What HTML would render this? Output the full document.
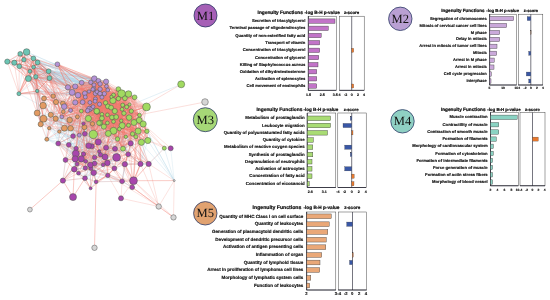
<!DOCTYPE html>
<html><head><meta charset="utf-8"><title>Network modules and Ingenuity Functions</title>
<style>
html,body{margin:0;padding:0;background:#fff;}
body{width:550px;height:300px;overflow:hidden;}
svg{display:block;filter:blur(0.4px);}
svg text{font-family:"Liberation Sans",sans-serif;font-weight:bold;fill:#111;stroke:#111;stroke-width:0.15px;text-rendering:geometricPrecision;}
svg text.h{stroke-width:0.22px;}
</style></head><body>
<svg width="550" height="300" viewBox="0 0 550 300">
<rect width="550" height="300" fill="#fff"/>
<g id="network">
<g fill="none">
<path d="M20.2 53.9L35.8 76.8M14.3 62.7L7.3 61.6M23.9 59.7L14.3 62.7M19.3 66.3L7.3 61.6M48.6 71.3L29.9 71.3M49.5 78.1L28.4 78.6M37.2 91L23.9 59.7M50.8 114.8L63.3 111.7M64.4 128.2L43.1 105.6M67.9 87.3L64.2 106.6M95.4 93.5L75.2 86.4M92.8 89.4L94.3 78.6M101.9 97.2L75.2 86.4M113.5 95L93.3 134.4M129.5 104.5L117.5 139M117.5 139L138.1 131.1M83.5 123.6L88.6 145.7M98.3 142L114.4 168.4M91.8 146.3L88.6 145.7M128.2 154.3L140.5 163.9M116.6 157.4L124.9 164.2M100.5 154.7L93.7 172.7M94.6 157.4L85 178.2M107.4 162.9L100.5 154.7M94.6 163.5L90.3 165M140.5 163.9L148.7 163.9M148.7 163.9L124.9 164.2M114.4 168.4L124.9 164.2M93.7 172.7L96.1 181.8M90.9 168.4L74.3 169.2M107.8 175.4L93.7 172.7M133.5 180.7L132.2 187.3M122.1 181.3L107.8 175.4M132.2 187.3L133.5 180.7M90.6 188.3L78.5 173.2M73 136.1L84.8 133.8M81.3 158.9L85.7 161.3M81.3 158.9L58.2 143.5M65.5 160L84.8 133.8M77.1 164L75.2 158.9M74.3 169.2L91.8 146.3M85.3 168L74.3 169.2M78.5 173.2L85 178.2M78.5 173.2L77.1 164M62.9 180.6L85 178.2M85 178.2L90.9 168.4M49.5 78.1L75.2 102.5M37.2 91L78 95.2M20.2 53.9L78 95.2M33.4 58.4L67.9 87.3M26.6 52L100.1 83.9M48.6 71.3L90.8 82.3M28.4 78.6L94 84.9M49.5 78.1L94.3 78.6M18.9 93.7L104.3 93.7M48.6 71.3L91.8 108.2M48.6 71.3L67.9 87.3M33.6 67.1L57.4 64.3M49.5 78.1L100.1 83.9M33.4 58.4L67.9 87.3M33.4 58.4L94 84.9M35.8 76.8L92.8 89.4M49.5 78.1L106.5 86.3M33.6 67.1L106.1 81.6M48.6 71.3L92.8 89.4M33.6 67.1L81.7 82.7M37.2 91L40.7 124.2M37.2 91L37.2 113M37.2 91L64.4 128.2M50.8 114.8L76.1 148.4M44 98.5L58.2 143.5M70.6 128.3L94.6 163.5M92.5 123.8L81.3 158.9M84.4 127.2L81.3 158.9M59.3 131.6L83.5 154M59.3 131.6L77.1 164M84.4 127.2L90.9 168.4M46.8 139.3L91.8 146.3M50.8 114.8L83.5 123.6M40.7 124.2L83.5 123.6M56 102L58.2 143.5M69.7 120L94.6 157.4M64.4 128.2L84.8 133.8M89.9 102.5L113.5 130.8M85.3 97L121.2 120.7M93.1 106.7L103.8 126.6M93.6 88.8L112.9 100.5M82.6 102.2L101.9 114.3M99.5 104.2L113.5 130.8M108.3 133.5L85.7 161.3M121.2 120.7L116.6 157.4M122.1 109.3L98.3 142M135.9 136.8L99.2 151.4M116.2 117L107.4 162.9M112 117.4L83.5 123.6M121.2 120.7L83.5 123.6M117.5 139L115 148.8M97 111.5L84.8 133.8M122.1 109.3L116.6 157.4M116.2 117L128.2 154.3M119.4 129L105 156.9M125.8 136.8L91.8 146.3M108.3 133.5L94.6 157.4M125.8 136.8L148.7 163.9M131.3 111.1L83.5 123.6" stroke="#a9cfe3" stroke-opacity="0.5" stroke-width="0.5"/>
<path d="M43.5 118.7L37.2 113M50.8 114.8L43.5 118.7M63.3 111.7L62.9 103.4M92.5 123.8L84.4 127.2" stroke="#a9cfe3" stroke-opacity="0.32" stroke-width="0.5"/>
<path d="M70.6 128.3L91.8 108.2M56 102L75.2 86.4M69.7 120L100 93.6M55.6 118.7L75.2 102.5M69.7 120L93.6 88.8M63.3 111.7L75.2 86.4" stroke="#a9cfe3" stroke-opacity="0.3" stroke-width="0.5"/>
<path d="M43.5 118.7L99 123M62.9 103.4L100.1 122.9" stroke="#a9cfe3" stroke-opacity="0.35" stroke-width="0.5"/>
<path d="M89 91.5L73 136.1M91.8 108.2L98.3 142M95.4 98.9L91.8 146.3" stroke="#a9cfe3" stroke-opacity="0.4" stroke-width="0.5"/>
<path d="M181.2 84.3L134.5 103.5" stroke="#a9cfe3" stroke-opacity="0.8" stroke-width="0.4"/>
<path d="M174.2 180.6L164.3 148.2M135.9 136.8L174.2 180.6" stroke="#a9cfe3" stroke-opacity="0.7" stroke-width="0.4"/>
<path d="M57.4 64.3L37.6 62.5" stroke="#a9cfe3" stroke-opacity="0.6" stroke-width="0.4"/>
<path d="M26.6 52L37.6 62.5M20.2 53.9L19.3 66.3M7.3 61.6L19.3 66.3M14.3 62.7L19.3 66.3M37.6 62.5L37.2 91M29.9 71.3L28.4 78.6M29.9 71.3L26.6 52M48.6 71.3L35.8 76.8M55.6 118.7L69.7 120M69.7 120L56 102M59.3 131.6L84.4 127.2M64.2 106.6L72.1 92.4M94 84.9L100.1 89.1M91.8 108.2L84.8 93.3M93.1 106.7L101.9 97.2M121.6 93.7L139.5 115.2M105.6 102.8L113.5 95M103.8 126.6L122.7 105.1M108.3 133.5L141.4 142.3M117.5 139L108.3 133.5M141.4 142.3L131.3 111.1M88.4 118.5L112 117.4M83.5 123.6L98.3 142M130.7 143.3L116.6 157.4M128.2 154.3L130.7 143.3M116.6 157.4L85 178.2M105 156.9L103.2 164.8M100.5 154.7L106.1 147.7M94.6 157.4L94.6 163.5M94.6 157.4L114.4 168.4M99.2 151.4L83.5 154M107.4 162.9L105 156.9M94.6 163.5L94.6 157.4M94.6 163.5L124.9 164.2M103.2 164.8L94.6 163.5M103.2 164.8L91.8 146.3M140.5 163.9L124.9 164.2M148.7 163.9L130.7 143.3M90.9 168.4L85.7 161.3M122.1 181.3L124.9 164.2M96.1 181.8L90.6 188.3M132.2 187.3L122.1 181.3M132.2 187.3L133.5 180.7M90.6 188.3L90.9 168.4M84.8 133.8L115 148.8M68.8 144.8L73 136.1M68.8 144.8L90.9 168.4M88.6 145.7L98.3 142M75.8 153.6L81.3 158.9M75.2 158.9L65.5 160M65.5 160L85.7 161.3M74.3 169.2L77.1 164M74.3 169.2L73 136.1M85.3 168L85.7 161.3M78.5 173.2L85.3 168M62.9 180.6L65.5 160M62.9 180.6L88.6 145.7M26.6 52L67.9 87.3M49.5 78.1L67.9 87.3M7.3 61.6L67.9 87.3M37.6 62.5L75.2 86.4M37.2 91L94 84.9M19.3 66.3L107.8 90M33.4 58.4L93.1 106.7M33.6 67.1L89.4 109M37.2 91L101.9 97.2M26.6 52L106.5 86.3M48.6 71.3L92.8 89.4M33.6 67.1L98.4 80.8M49.5 78.1L81.7 82.7M48.6 71.3L93.6 88.8M37.6 62.5L98.4 80.8M48.6 71.3L67.9 87.3M33.6 67.1L98.4 80.8M33.6 67.1L81.7 82.7M49.5 78.1L106.1 81.6M19.3 66.3L62.9 103.4M35.8 76.8L77.4 116.8M33.6 67.1L44 98.5M29.9 71.3L43.1 105.6M62.9 103.4L84.8 133.8M59.3 131.6L83.5 154M46.8 139.3L58.2 143.5M77.4 116.8L94.6 163.5M77.4 116.8L83.5 123.6M62.9 103.4L88.6 145.7M63.3 111.7L91.8 146.3M46.8 139.3L84.8 133.8M46.8 139.3L83.5 123.6M77.4 116.8L98.3 142M49.2 128.2L68.8 144.8M106.1 81.6L124.9 98.3M95.1 101.2L121.6 93.7M100.1 122.9L94.6 157.4M118.4 98.6L98.3 142M138.1 131.1L99.2 151.4M121.2 120.7L91.8 146.3M101.9 118.3L76.1 148.4M139.2 120.3L115 148.8M113.5 130.8L73 136.1M108.3 133.5L140.5 163.9M112 117.4L128.2 154.3M122.1 125.6L84.8 133.8M116.2 117L91.8 146.3M108.3 133.5L68.8 144.8M97 111.5L76.1 148.4M121.2 120.7L98.3 142M112 117.4L107.4 162.9M125.8 136.8L84.8 133.8M108.3 133.5L74.3 169.2" stroke="#a9cfe3" stroke-opacity="0.5" stroke-width="0.5"/>
<path d="M44 98.5L37.2 113M53.2 96.1L62.9 103.4M43.1 105.6L44 98.5M37.2 113L43.5 118.7M55.6 118.7L50.8 114.8M63.3 111.7L55.6 118.7M64.4 128.2L59.3 131.6M70.6 128.3L69.7 120M46.8 139.3L40.7 124.2" stroke="#a9cfe3" stroke-opacity="0.32" stroke-width="0.5"/>
<path d="M49.2 128.2L82.6 102.2M56 102L57.4 64.3M92.5 123.8L104.3 93.7M64.4 128.2L89.4 109M53.2 96.1L93.6 88.8" stroke="#a9cfe3" stroke-opacity="0.3" stroke-width="0.5"/>
<path d="M63.3 111.7L111.4 96.8M64.4 128.2L107.9 106.4M53.2 96.1L97 111.5" stroke="#a9cfe3" stroke-opacity="0.35" stroke-width="0.5"/>
<path d="M89.9 102.5L76.1 148.4M100 93.6L84.8 133.8M99.5 104.2L130.7 143.3M89 91.5L91.8 146.3M95.4 98.9L98.3 142M93.1 106.7L106.1 147.7M82.6 102.2L84.8 133.8M99.5 104.2L115 148.8" stroke="#a9cfe3" stroke-opacity="0.4" stroke-width="0.5"/>
<path d="M174.2 180.6L147.8 140.5M146.9 131.3L174.2 180.6" stroke="#a9cfe3" stroke-opacity="0.7" stroke-width="0.4"/>
<path d="M170.7 148.3L174.2 180.6M57.4 64.3L33.4 58.4" stroke="#a9cfe3" stroke-opacity="0.6" stroke-width="0.4"/>
<path d="M33.6 67.1L35.8 76.8M56 102L46.8 139.3M40.7 124.2L50.8 114.8M69.7 120L55.6 118.7M64.4 128.2L55.6 118.7M78 95.2L97 91.8M75.2 102.5L64.2 106.6M79.3 135.2L91.8 108.2M143.2 124L146.5 106.9M113.5 121.6L108.3 133.5M146.9 131.3L132.6 133.9M83.5 123.6L91.8 146.3M106.1 147.7L74.3 169.2M115 148.8L105 156.9M91.8 146.3L76.1 148.4M116.6 157.4L105 156.9M100.5 154.7L103.2 164.8M94.6 157.4L115 148.8M99.2 151.4L94.6 157.4M103.2 164.8L100.5 154.7M103.2 164.8L94.6 157.4M140.5 163.9L128.2 154.3M148.7 163.9L140.5 163.9M90.9 168.4L103.2 164.8M107.8 175.4L103.2 164.8M122.1 181.3L90.3 165M96.1 181.8L133.5 180.7M90.6 188.3L96.1 181.8M73 136.1L83.5 123.6M84.8 133.8L73 136.1M58.2 143.5L75.8 153.6M68.8 144.8L58.2 143.5M88.6 145.7L99.2 151.4M85.7 161.3L90.9 168.4M74.3 169.2L75.2 158.9M78.5 173.2L90.3 165M85 178.2L98.3 142M19.3 66.3L67.9 87.3M37.6 62.5L64.2 106.6M33.6 67.1L93.1 106.7M23.9 59.7L81.7 82.7M33.6 67.1L84.8 93.3M35.8 76.8L100.1 89.1M33.4 58.4L67.9 87.3M49.5 78.1L90.8 82.3M37.6 62.5L100.1 83.9M33.4 58.4L92.8 89.4M33.6 67.1L106.1 81.6M37.6 62.5L106.1 81.6M49.5 78.1L94.3 78.6M29.9 71.3L40.7 124.2M37.2 91L40.7 124.2M46.8 139.3L76.1 148.4M53.2 96.1L84.8 133.8M55.6 118.7L73 136.1M84.4 127.2L98.3 142M55.6 118.7L75.8 153.6M70.6 128.3L58.2 143.5M92.5 123.8L85.7 161.3M70.6 128.3L90.3 165M46.8 139.3L81.3 158.9M63.3 111.7L73 136.1M55.6 118.7L98.3 142M92.5 123.8L128.2 154.3M49.2 128.2L88.6 145.7M63.3 111.7L75.2 158.9M97 91.8L112.9 100.5M107.8 90L107.9 106.4M116.2 117L130.7 143.3M93.3 134.4L124.9 164.2M141.4 142.3L94.6 157.4M113.5 121.6L128.2 154.3M138.1 131.1L128.2 154.3M121.2 120.7L91.8 146.3M101.9 114.3L83.5 123.6M107.4 122.9L75.8 153.6M119.4 129L106.1 147.7M107.4 122.9L99.2 151.4M108.3 133.5L84.8 133.8M81.3 111.1L98.3 142M108.3 133.5L73 136.1M101.9 118.3L115 148.8M123.9 113.3L88.6 145.7" stroke="#a9cfe3" stroke-opacity="0.5" stroke-width="0.5"/>
<path d="M53.2 96.1L43.1 105.6M62.9 103.4L50.8 114.8M37.2 113L43.1 105.6M55.6 118.7L63.3 111.7M64.4 128.2L70.6 128.3M84.4 127.2L70.6 128.3M70.6 128.3L59.3 131.6" stroke="#a9cfe3" stroke-opacity="0.32" stroke-width="0.5"/>
<path d="M43.5 118.7L75.2 102.5M64.4 128.2L75.2 86.4M77.4 116.8L101.9 97.2M92.5 123.8L87.6 110.7M44 98.5L89 91.5M69.7 120L94 84.9M64.4 128.2L72.1 92.4M43.1 105.6L79.3 135.2" stroke="#a9cfe3" stroke-opacity="0.3" stroke-width="0.5"/>
<path d="M92.5 123.8L129.5 104.5M46.8 139.3L81.3 111.1" stroke="#a9cfe3" stroke-opacity="0.35" stroke-width="0.5"/>
<path d="M79.3 135.2L107.8 175.4M95.1 101.2L130.7 143.3M99.5 104.2L68.8 144.8M100 93.6L73 136.1M95.1 101.2L130.7 143.3M89.4 109L77.1 164M79.3 135.2L75.8 153.6M97 91.8L84.8 133.8M100 93.6L83.5 123.6M87.6 110.7L98.3 142" stroke="#a9cfe3" stroke-opacity="0.4" stroke-width="0.5"/>
<path d="M174.2 180.6L143.2 124M148.7 163.9L164.3 148.2" stroke="#a9cfe3" stroke-opacity="0.7" stroke-width="0.4"/>
<path d="M57.4 64.3L48.6 71.3" stroke="#a9cfe3" stroke-opacity="0.6" stroke-width="0.4"/>
<path d="M26.6 52L37.6 62.5M26.6 52L19.3 66.3M33.4 58.4L26.6 52M33.4 58.4L28.4 78.6M33.6 67.1L35.8 76.8M29.9 71.3L37.6 62.5M28.4 78.6L37.2 91M18.9 93.7L48.6 71.3M37.2 91L29.9 71.3M56 102L62.9 103.4M50.8 114.8L49.2 128.2M69.7 120L37.2 113M59.3 131.6L63.3 111.7M84.8 93.3L93.6 88.8M89.9 102.5L84.8 93.3M123.9 113.3L139.5 115.2M100.1 122.9L101.9 118.3M141.4 142.3L138.1 131.1M115 148.8L128.2 154.3M91.8 146.3L83.5 154M91.8 146.3L62.9 180.6M128.2 154.3L115 148.8M116.6 157.4L115 148.8M116.6 157.4L93.7 172.7M105 156.9L100.5 154.7M94.6 157.4L99.2 151.4M107.4 162.9L100.5 154.7M107.4 162.9L78.5 173.2M94.6 163.5L103.2 164.8M90.9 168.4L93.7 172.7M107.8 175.4L81.3 158.9M122.1 181.3L132.2 187.3M122.1 181.3L124.9 164.2M90.6 188.3L88.6 145.7M84.8 133.8L88.6 145.7M68.8 144.8L75.8 153.6M68.8 144.8L103.2 164.8M76.1 148.4L68.8 144.8M75.8 153.6L77.1 164M75.2 158.9L81.3 158.9M81.3 158.9L77.1 164M65.5 160L68.8 144.8M85.7 161.3L81.3 158.9M85.7 161.3L81.3 158.9M90.3 165L94.6 163.5M90.3 165L99.2 151.4M77.1 164L90.9 168.4M74.3 169.2L85.3 168M74.3 169.2L75.2 158.9M33.6 67.1L61.8 116.8M18.9 93.7L61.8 116.8M28.4 78.6L75.2 102.5M35.8 76.8L95.4 98.9M28.4 78.6L94 84.9M18.9 93.7L93.6 88.8M29.9 71.3L106.1 81.6M28.4 78.6L100.1 83.9M29.9 71.3L104.3 93.7M33.6 67.1L100.1 83.9M37.6 62.5L98.4 80.8M48.6 71.3L98.4 80.8M37.6 62.5L67.9 87.3M48.6 71.3L100.1 89.1M49.5 78.1L81.7 82.7M33.6 67.1L94.3 78.6M48.6 71.3L94 84.9M48.6 71.3L94 84.9M33.6 67.1L43.5 118.7M59.3 131.6L91.8 146.3M92.5 123.8L103.2 164.8M55.6 118.7L91.8 146.3M77.4 116.8L94.6 157.4M43.5 118.7L83.5 123.6M92.5 123.8L85.7 161.3M70.6 128.3L115 148.8M62.9 103.4L73 136.1M43.5 118.7L75.8 153.6M59.3 131.6L100.5 154.7M40.7 124.2L83.5 123.6M49.2 128.2L75.2 158.9M84.4 127.2L103.2 164.8M82.6 102.2L121.6 93.7M93.6 88.8L107.9 106.4M99.5 104.2L129.5 104.5M95.4 93.5L111.4 96.8M88.4 118.5L94.6 163.5M111.1 107.6L128.2 154.3M111.1 107.6L84.8 133.8M123.9 113.3L100.5 154.7M88.4 118.5L68.8 144.8M99 123L114.4 168.4M134 122.5L148.7 163.9M113.5 121.6L128.2 154.3M88.4 118.5L116.6 157.4M101.9 118.3L100.5 154.7M138.1 131.1L100.5 154.7M107.4 122.9L88.6 145.7M112.9 100.5L130.7 143.3M135.9 136.8L103.2 164.8" stroke="#a9cfe3" stroke-opacity="0.5" stroke-width="0.5"/>
<path d="M56 102L62.9 103.4M37.2 113L40.7 124.2M40.7 124.2L43.5 118.7M63.3 111.7L56 102M69.7 120L70.6 128.3" stroke="#a9cfe3" stroke-opacity="0.32" stroke-width="0.5"/>
<path d="M69.7 120L95.4 93.5M84.4 127.2L93.6 88.8M55.6 118.7L61.8 116.8M53.2 96.1L100 93.6M92.5 123.8L95.4 98.9M56 102L89.4 109M64.4 128.2L64.2 106.6" stroke="#a9cfe3" stroke-opacity="0.3" stroke-width="0.5"/>
<path d="M49.2 128.2L108.3 133.5M55.6 118.7L93.3 134.4" stroke="#a9cfe3" stroke-opacity="0.35" stroke-width="0.5"/>
<path d="M89.9 102.5L75.2 158.9M87.6 110.7L91.8 146.3M75.2 86.4L84.8 133.8" stroke="#a9cfe3" stroke-opacity="0.4" stroke-width="0.5"/>
<path d="M140.5 163.9L147.8 140.5" stroke="#a9cfe3" stroke-opacity="0.7" stroke-width="0.4"/>
<path d="M26.6 52L49.5 78.1M20.2 53.9L33.4 58.4M7.3 61.6L26.6 52M23.9 59.7L18.9 93.7M53.2 96.1L59.3 131.6M40.7 124.2L77.4 116.8M92.5 123.8L55.6 118.7M84.4 127.2L55.6 118.7M46.8 139.3L44 98.5M75.2 102.5L95.4 93.5M64.2 106.6L89.4 109M89.4 109L95.1 101.2M107.8 90L100 93.6M87.6 110.7L89.4 109M87.6 110.7L95.1 101.2M128.5 94L121.6 93.7M124.9 98.3L118.4 98.6M114.8 111.1L116.2 117M122.1 109.3L114.8 111.1M123.9 113.3L126.7 106.9M107.4 114.8L146.9 131.3M107.4 122.9L112 117.4M103.8 126.6L121.6 93.7M138.1 131.1L124.9 98.3M98.3 142L100.5 154.7M116.6 157.4L107.4 162.9M100.5 154.7L130.7 143.3M94.6 157.4L88.6 145.7M107.4 162.9L116.6 157.4M94.6 163.5L85.7 161.3M93.7 172.7L94.6 163.5M90.9 168.4L85.3 168M90.9 168.4L116.6 157.4M122.1 181.3L130.7 143.3M96.1 181.8L78.5 173.2M84.8 133.8L91.8 146.3M58.2 143.5L75.8 153.6M88.6 145.7L96.1 181.8M75.8 153.6L115 148.8M83.5 154L75.8 153.6M83.5 154L100.5 154.7M75.2 158.9L107.8 175.4M81.3 158.9L75.8 153.6M65.5 160L98.3 142M85.7 161.3L105 156.9M90.3 165L85.3 168M77.1 164L85.3 168M78.5 173.2L122.1 181.3M62.9 180.6L74.3 169.2M85 178.2L93.7 172.7M19.3 66.3L75.2 86.4M23.9 59.7L67.9 87.3M35.8 76.8L94 84.9M19.3 66.3L98.4 80.8M20.2 53.9L89.9 102.5M33.6 67.1L89.4 109M19.3 66.3L107.8 90M48.6 71.3L85.3 97M33.4 58.4L106.5 86.3M37.6 62.5L100.1 83.9M48.6 71.3L94 84.9M48.6 71.3L75.2 86.4M33.4 58.4L81.7 82.7M48.6 71.3L92.8 89.4M33.6 67.1L81.7 82.7M35.8 76.8L75.2 86.4M33.6 67.1L57.4 64.3M33.6 67.1L53.2 96.1M35.8 76.8L77.4 116.8M37.2 91L53.2 96.1M84.4 127.2L115 148.8M84.4 127.2L81.3 158.9M84.4 127.2L65.5 160M92.5 123.8L105 156.9M64.4 128.2L105 156.9M43.5 118.7L84.8 133.8M62.9 103.4L58.2 143.5M70.6 128.3L90.3 165M92.5 123.8L90.3 165M64.4 128.2L75.8 153.6M55.6 118.7L84.8 133.8M69.7 120L83.5 154M64.4 128.2L75.8 153.6M90.8 82.3L129.5 104.5M93.1 106.7L139.5 115.2M107.8 90L81.3 111.1M121.2 120.7L88.6 145.7M108.3 133.5L94.6 163.5M100.1 122.9L58.2 143.5M113.5 130.8L75.8 153.6M103.8 126.6L83.5 123.6M97 111.5L83.5 123.6M129.5 104.5L83.5 123.6M121.2 120.7L105 156.9M88.4 118.5L94.6 163.5M146.9 131.3L140.5 163.9" stroke="#a9cfe3" stroke-opacity="0.5" stroke-width="0.5"/>
<path d="M56 102L63.3 111.7M37.2 113L50.8 114.8M43.5 118.7L50.8 114.8M77.4 116.8L69.7 120M64.4 128.2L55.6 118.7M49.2 128.2L59.3 131.6" stroke="#a9cfe3" stroke-opacity="0.32" stroke-width="0.5"/>
<path d="M43.1 105.6L87.6 110.7M69.7 120L94.3 78.6M63.3 111.7L91.8 108.2M53.2 96.1L94 84.9M53.2 96.1L91.8 108.2" stroke="#a9cfe3" stroke-opacity="0.3" stroke-width="0.5"/>
<path d="M92.5 123.8L143.2 124M62.9 103.4L122.7 105.1M84.4 127.2L128.5 125.3M69.7 120L100.1 122.9" stroke="#a9cfe3" stroke-opacity="0.35" stroke-width="0.5"/>
<path d="M95.4 98.9L105 156.9M87.6 110.7L128.2 154.3M95.1 101.2L88.6 145.7M104.3 93.7L99.2 151.4M82.6 102.2L81.3 158.9M75.2 102.5L84.8 133.8M79.3 135.2L94.6 163.5" stroke="#a9cfe3" stroke-opacity="0.4" stroke-width="0.5"/>
<path d="M26.6 52L20.2 53.9M26.6 52L28.4 78.6M20.2 53.9L26.6 52M7.3 61.6L14.3 62.7M7.3 61.6L20.2 53.9M14.3 62.7L26.6 52M23.9 59.7L7.3 61.6M33.4 58.4L29.9 71.3M33.4 58.4L14.3 62.7M37.6 62.5L48.6 71.3M37.6 62.5L33.6 67.1M33.6 67.1L29.9 71.3M33.6 67.1L20.2 53.9M29.9 71.3L33.6 67.1M29.9 71.3L14.3 62.7M48.6 71.3L49.5 78.1M28.4 78.6L29.9 71.3M28.4 78.6L7.3 61.6M35.8 76.8L28.4 78.6M35.8 76.8L19.3 66.3M49.5 78.1L35.8 76.8M18.9 93.7L37.2 91M18.9 93.7L14.3 62.7M37.2 91L28.4 78.6M53.2 96.1L70.6 128.3M43.1 105.6L59.3 131.6M62.9 103.4L56 102M37.2 113L49.2 128.2M55.6 118.7L62.9 103.4M63.3 111.7L44 98.5M77.4 116.8L59.3 131.6M70.6 128.3L50.8 114.8M46.8 139.3L55.6 118.7M57.4 64.3L78 95.2M67.9 87.3L75.2 86.4M67.9 87.3L78 95.2M75.2 86.4L81.7 82.7M75.2 86.4L100.1 83.9M75.2 86.4L95.1 101.2M81.7 82.7L84.8 93.3M81.7 82.7L106.1 81.6M81.7 82.7L72.1 92.4M72.1 92.4L84.8 93.3M72.1 92.4L92.8 89.4M72.1 92.4L89.4 109M78 95.2L82.6 102.2M78 95.2L90.8 82.3M84.8 93.3L89 91.5M84.8 93.3L89.9 102.5M84.8 93.3L90.8 82.3M90.8 82.3L94.3 78.6M90.8 82.3L89 91.5M90.8 82.3L72.1 92.4M94.3 78.6L94 84.9M94.3 78.6L100.1 89.1M94.3 78.6L81.7 82.7M98.4 80.8L90.8 82.3M98.4 80.8L89.9 102.5M93.6 88.8L92.8 89.4M93.6 88.8L100.1 89.1M93.6 88.8L106.1 81.6M89 91.5L84.8 93.3M89 91.5L94 84.9M89 91.5L89.4 109M95.4 93.5L100 93.6M95.4 93.5L89 91.5M85.3 97L82.6 102.2M85.3 97L95.1 101.2M85.3 97L61.8 116.8M75.2 102.5L72.1 92.4M75.2 102.5L100.1 89.1M82.6 102.2L85.3 97M82.6 102.2L89.4 109M82.6 102.2L75.2 102.5M89.9 102.5L93.1 106.7M89.9 102.5L85.3 97M89.9 102.5L75.2 86.4M95.4 98.9L95.1 101.2M95.4 98.9L100 93.6M95.4 98.9L95.4 93.5M64.2 106.6L70.6 110.4M64.2 106.6L82.6 102.2M64.2 106.6L87.6 110.7M89.4 109L91.8 108.2M89.4 109L99.5 104.2M89.4 109L95.4 93.5M61.8 116.8L75.2 102.5M61.8 116.8L85.3 97M99.5 104.2L93.1 106.7M99.5 104.2L89 91.5M99.5 104.2L75.2 102.5M70.6 110.4L61.8 116.8M70.6 110.4L95.4 93.5M70.6 110.4L84.8 93.3M106.1 81.6L100.1 89.1M106.1 81.6L89 91.5M100.1 83.9L98.4 80.8M100.1 83.9L94.3 78.6M100.1 83.9L67.9 87.3M94 84.9L93.6 88.8M94 84.9L94.3 78.6M94 84.9L93.6 88.8M106.5 86.3L100.1 83.9M106.5 86.3L97 91.8M106.5 86.3L95.4 93.5M100.1 89.1L100.1 83.9M100.1 89.1L75.2 86.4M107.8 90L106.5 86.3M107.8 90L101.9 97.2M107.8 90L100.1 89.1M92.8 89.4L94 84.9M92.8 89.4L75.2 102.5M97 91.8L100.1 89.1M97 91.8L89.9 102.5M97 91.8L100.1 83.9M104.3 93.7L107.8 90M104.3 93.7L91.8 108.2M104.3 93.7L78 95.2M101.9 97.2L95.4 98.9M101.9 97.2L75.2 86.4M95.1 101.2L93.1 106.7M95.1 101.2L82.6 102.2M95.1 101.2L81.7 82.7M91.8 108.2L95.1 101.2M91.8 108.2L82.6 102.2M79.3 135.2L61.8 116.8M79.3 135.2L93.1 106.7M93.1 106.7L89.4 109M93.1 106.7L95.4 98.9M93.1 106.7L85.3 97M100 93.6L101.9 97.2M100 93.6L93.6 88.8M100 93.6L89.4 109M87.6 110.7L91.8 108.2M87.6 110.7L99.5 104.2M87.6 110.7L91.8 108.2M118.4 89.1L113.5 95M118.4 89.1L112.9 100.5M118.4 89.1L121.6 93.7M121.6 93.7L118.4 98.6M121.6 93.7L100.1 122.9M121.6 93.7L96.7 111.1M128.5 94L134.6 97.3M128.5 94L107.4 114.8M128.5 94L112.9 100.5M113.5 95L118.4 98.6M113.5 95L134 122.5M134.6 97.3L124.9 98.3M134.6 97.3L139.2 120.3M134.6 97.3L135.9 136.8M118.4 98.6L124.9 98.3M118.4 98.6L97 111.5M118.4 98.6L124.9 98.3M124.9 98.3L122.7 105.1M124.9 98.3L146.5 106.9M124.9 98.3L129.1 117.6M112.9 100.5L111.1 107.6M112.9 100.5L124.9 98.3M112.9 100.5L121.6 93.7M105.6 102.8L111.4 96.8M105.6 102.8L107.4 122.9M146.5 106.9L139.5 115.2M146.5 106.9L143.2 124M146.5 106.9L113.5 95M146.5 106.9L122.7 105.1M97 111.5L88.4 118.5M97 111.5L108.3 133.5M107.9 106.4L111.1 107.6M107.9 106.4L101.9 114.3M107.9 106.4L132.6 133.9M107.9 106.4L139.5 115.2M111.1 107.6L107.4 114.8M111.1 107.6L107.4 114.8M111.1 107.6L146.5 106.9M111.4 96.8L105.6 102.8M111.4 96.8L103.8 126.6M111.4 96.8L112.9 100.5M129.5 104.5L124.9 98.3M129.5 104.5L129.1 117.6M114.8 111.1L112 117.4M114.8 111.1L143.2 124M114.8 111.1L143.2 124M122.7 105.1L126.7 106.9M122.7 105.1L114.8 111.1M122.7 105.1L123.9 113.3M126.7 106.9L129.5 104.5M126.7 106.9L124.9 98.3M126.7 106.9L146.9 131.3M126.7 106.9L107.9 106.4M122.1 109.3L129.5 104.5M122.1 109.3L128.5 94M122.1 109.3L112.9 100.5M123.9 113.3L131.3 111.1M123.9 113.3L103.8 126.6M123.9 113.3L99 123M131.3 111.1L129.1 117.6M131.3 111.1L146.5 106.9M131.3 111.1L113.5 95M101.9 114.3L107.4 114.8M101.9 114.3L107.9 106.4M101.9 114.3L81.3 111.1M107.4 114.8L101.9 114.3M107.4 114.8L107.9 106.4M107.4 114.8L114.8 111.1M101.9 118.3L101.9 114.3M101.9 118.3L97 111.5M101.9 118.3L103.8 126.6M101.9 118.3L125.8 136.8M112 117.4L107.4 122.9M112 117.4L81.3 111.1M112 117.4L121.2 120.7M116.2 117L121.2 120.7M116.2 117L113.5 121.6M116.2 117L100.1 122.9M129.1 117.6L134 122.5M129.1 117.6L105.6 102.8M129.1 117.6L135.9 136.8M139.5 115.2L134 122.5M139.5 115.2L129.5 104.5M139.5 115.2L122.7 105.1M139.2 120.3L139.5 115.2M139.2 120.3L128.5 125.3M139.2 120.3L122.7 105.1M134 122.5L128.5 125.3M134 122.5L132.6 133.9M134 122.5L108.3 133.5M143.2 124L139.2 120.3M143.2 124L132.6 133.9M143.2 124L122.7 105.1M113.5 121.6L112 117.4M113.5 121.6L113.5 130.8M113.5 121.6L113.5 95M113.5 121.6L118.4 89.1M121.2 120.7L129.1 117.6M121.2 120.7L107.9 106.4M121.2 120.7L138.1 131.1M100.1 122.9L107.4 122.9M100.1 122.9L88.4 118.5M100.1 122.9L107.9 106.4M107.4 122.9L101.9 118.3M107.4 122.9L88.4 118.5M107.4 122.9L113.5 121.6M103.8 126.6L108.3 133.5M103.8 126.6L146.9 131.3M103.8 126.6L107.4 114.8M122.1 125.6L128.5 125.3M122.1 125.6L129.5 104.5M122.1 125.6L113.5 130.8M128.5 125.3L129.1 117.6M128.5 125.3L96.7 111.1M128.5 125.3L138.1 131.1M113.5 130.8L119.4 129M113.5 130.8L103.8 126.6M113.5 130.8L128.5 94M119.4 129L122.1 125.6M119.4 129L125.8 136.8M119.4 129L122.1 125.6M119.4 129L93.3 134.4M108.3 133.5L119.4 129M108.3 133.5L128.5 125.3M108.3 133.5L111.4 96.8M93.3 134.4L108.3 133.5M93.3 134.4L132.6 133.9M138.1 131.1L135.9 136.8M138.1 131.1L139.2 120.3M138.1 131.1L141.4 142.3M138.1 131.1L112 117.4M132.6 133.9L134 122.5M132.6 133.9L123.9 113.3M132.6 133.9L131.3 111.1M146.9 131.3L141.4 142.3M146.9 131.3L107.4 122.9M146.9 131.3L128.5 94M135.9 136.8L146.9 131.3M135.9 136.8L129.1 117.6M135.9 136.8L131.3 111.1M125.8 136.8L135.9 136.8M125.8 136.8L100.1 122.9M125.8 136.8L122.1 125.6M117.5 139L119.4 129M117.5 139L122.1 125.6M147.8 140.5L146.9 131.3M147.8 140.5L139.2 120.3M147.8 140.5L128.5 125.3M141.4 142.3L146.9 131.3M141.4 142.3L128.5 125.3M123 148.7L117.5 139M123 148.7L119.4 129M123 148.7L101.9 118.3M81.3 111.1L101.9 114.3M81.3 111.1L121.6 93.7M96.7 111.1L88.4 118.5M96.7 111.1L111.4 96.8M96.7 111.1L105.6 102.8M88.4 118.5L99 123M88.4 118.5L99 123M99 123L101.9 118.3M99 123L97 111.5M99 123L96.7 111.1M98.3 142L91.8 146.3M130.7 143.3L115 148.8M130.7 143.3L103.2 164.8M106.1 147.7L98.3 142M115 148.8L116.6 157.4M115 148.8L133.5 180.7M91.8 146.3L62.9 180.6M128.2 154.3L124.9 164.2M116.6 157.4L85.3 168M105 156.9L99.2 151.4M105 156.9L116.6 157.4M100.5 154.7L94.6 157.4M94.6 157.4L85.7 161.3M99.2 151.4L91.8 146.3M107.4 162.9L103.2 164.8M94.6 163.5L75.2 158.9M103.2 164.8L105 156.9M103.2 164.8L85.7 161.3M124.9 164.2L114.4 168.4M140.5 163.9L115 148.8M114.4 168.4L93.7 172.7M93.7 172.7L100.5 154.7M90.9 168.4L94.6 163.5M133.5 180.7L128.2 154.3M122.1 181.3L85.7 161.3M96.1 181.8L90.9 168.4M132.2 187.3L130.7 143.3M73 136.1L83.5 154M84.8 133.8L98.3 142M58.2 143.5L65.5 160M68.8 144.8L76.1 148.4M68.8 144.8L81.3 158.9M88.6 145.7L83.5 154M88.6 145.7L76.1 148.4M76.1 148.4L75.2 158.9M75.8 153.6L75.2 158.9M75.8 153.6L107.8 175.4M83.5 154L76.1 148.4M83.5 154L83.5 123.6M75.2 158.9L65.5 160M65.5 160L75.8 153.6M85.7 161.3L85.3 168M85.7 161.3L83.5 154M90.3 165L85.7 161.3M77.1 164L58.2 143.5M74.3 169.2L78.5 173.2M85.3 168L90.3 165M62.9 180.6L78.5 173.2M20.2 53.9L78 95.2M14.3 62.7L72.1 92.4M14.3 62.7L70.6 110.4M48.6 71.3L61.8 116.8M33.6 67.1L61.8 116.8M48.6 71.3L77.4 116.8M35.8 76.8L56 102M28.4 78.6L53.2 96.1M29.9 71.3L56 102M35.8 76.8L43.1 105.6M106.1 81.6L105.6 102.8M93.1 106.7L107.4 122.9M95.4 93.5L101.9 118.3M95.4 98.9L121.6 93.7M99.5 104.2L134.6 97.3M98.4 80.8L111.1 107.6M97 91.8L124.9 98.3M95.4 93.5L128.5 125.3M92.8 89.4L119.4 129M89.4 109L113.5 95M97 91.8L134.6 97.3M94.3 78.6L128.5 94M81.7 82.7L128.5 94M79.3 135.2L112.9 100.5M101.9 97.2L143.2 124M82.6 102.2L96.7 111.1M81.7 82.7L107.4 114.8M99.5 104.2L101.9 118.3M97 91.8L112 117.4M106.5 86.3L118.4 89.1M78 95.2L107.9 106.4M89 91.5L113.5 121.6M89.9 102.5L113.5 130.8M95.1 101.2L96.7 111.1M106.5 86.3L146.5 106.9M89.4 109L123.9 113.3M95.1 101.2L111.1 107.6M89 91.5L122.1 109.3M90.8 82.3L101.9 114.3M99.5 104.2L122.1 109.3M79.3 135.2L103.8 126.6M89 91.5L97 111.5M99.5 104.2L138.1 131.1M106.1 81.6L129.1 117.6M99.5 104.2L97 111.5M89.9 102.5L118.4 98.6M95.1 101.2L139.5 115.2M94.3 78.6L107.4 114.8M64.2 106.6L101.9 114.3M93.6 88.8L119.4 129M97 91.8L96.7 111.1M93.1 106.7L101.9 118.3M79.3 135.2L107.9 106.4M95.4 93.5L123.9 113.3M100 93.6L107.4 122.9M100.1 83.9L116.2 117M106.1 81.6L103.8 126.6M104.3 93.7L129.1 117.6M101.9 97.2L114.8 111.1M107.8 90L114.8 111.1M81.7 82.7L122.1 109.3M94 84.9L124.9 98.3M72.1 92.4L113.5 95M100 93.6L96.7 111.1M106.1 81.6L129.1 117.6M90.8 82.3L112.9 100.5M93.1 106.7L107.4 122.9M106.5 86.3L139.5 115.2M94 84.9L88.4 118.5M89.9 102.5L108.3 133.5M89 91.5L113.5 121.6M94 84.9L112 117.4M84.8 93.3L111.1 107.6M90.8 82.3L114.8 111.1M75.2 86.4L100.1 122.9M100.1 83.9L97 111.5M70.6 110.4L100.1 122.9M87.6 110.7L119.4 129M99.5 104.2L97 111.5M106.1 81.6L96.7 111.1M91.8 108.2L105.6 102.8M93.1 106.7L105.6 102.8M72.1 92.4L107.9 106.4M78 95.2L111.4 96.8M81.3 111.1L58.2 143.5M107.4 114.8L88.6 145.7M123 148.7L105 156.9M97 111.5L68.8 144.8M113.5 121.6L98.3 142M128.5 125.3L130.7 143.3M101.9 118.3L105 156.9M139.2 120.3L140.5 163.9M113.5 130.8L124.9 164.2M81.3 111.1L99.2 151.4M131.3 111.1L106.1 147.7M88.4 118.5L99.2 151.4M101.9 118.3L128.2 154.3M113.5 130.8L148.7 163.9M88.4 118.5L103.2 164.8M108.3 133.5L75.8 153.6M114.8 111.1L88.6 145.7M147.8 140.5L98.3 142" stroke="#f0776a" stroke-opacity="0.5" stroke-width="0.5"/>
<path d="M44 98.5L56 102M53.2 96.1L44 98.5M56 102L44 98.5M62.9 103.4L63.3 111.7M40.7 124.2L37.2 113M69.7 120L63.3 111.7M77.4 116.8L84.4 127.2M49.2 128.2L43.5 118.7M84.4 127.2L92.5 123.8M70.6 128.3L64.4 128.2M59.3 131.6L55.6 118.7M46.8 139.3L59.3 131.6" stroke="#f0776a" stroke-opacity="0.32" stroke-width="0.5"/>
<path d="M50.8 114.8L91.8 108.2M56 102L64.2 106.6M50.8 114.8L99.5 104.2M63.3 111.7L87.6 110.7M69.7 120L94 84.9M70.6 128.3L101.9 97.2M56 102L79.3 135.2M59.3 131.6L95.4 98.9M62.9 103.4L95.4 93.5M43.5 118.7L61.8 116.8M59.3 131.6L89.4 109M63.3 111.7L94 84.9" stroke="#f0776a" stroke-opacity="0.3" stroke-width="0.5"/>
<path d="M84.4 127.2L97 111.5M84.4 127.2L118.4 89.1M43.5 118.7L88.4 118.5M84.4 127.2L128.5 125.3M92.5 123.8L111.4 96.8" stroke="#f0776a" stroke-opacity="0.35" stroke-width="0.5"/>
<path d="M91.8 108.2L88.6 145.7M75.2 102.5L73 136.1M87.6 110.7L85.3 168M95.1 101.2L75.8 153.6M64.2 106.6L58.2 143.5M81.7 82.7L73 136.1M78 95.2L84.8 133.8" stroke="#f0776a" stroke-opacity="0.4" stroke-width="0.5"/>
<path d="M94.5 247.8L96.1 181.8" stroke="#f0776a" stroke-opacity="0.65" stroke-width="0.6"/>
<path d="M158.7 206.5L140.5 163.9" stroke="#f0776a" stroke-opacity="0.55" stroke-width="0.4"/>
<path d="M164.3 148.2L147.8 140.5M170.7 148.3L143.2 124M121 198.3L122.1 181.3M133.5 180.7L124.9 164.2M148.7 163.9L130.7 143.3M90.6 188.3L93.7 172.7M96.1 181.8L122.1 181.3M57.4 64.3L90.8 82.3" stroke="#f0776a" stroke-opacity="0.5" stroke-width="0.4"/>
<path d="M26.6 52L23.9 59.7M20.2 53.9L23.9 59.7M14.3 62.7L19.3 66.3M23.9 59.7L20.2 53.9M23.9 59.7L7.3 61.6M33.4 58.4L37.6 62.5M33.4 58.4L18.9 93.7M37.6 62.5L33.4 58.4M19.3 66.3L14.3 62.7M19.3 66.3L23.9 59.7M33.6 67.1L37.6 62.5M33.6 67.1L35.8 76.8M48.6 71.3L14.3 62.7M28.4 78.6L35.8 76.8M28.4 78.6L33.6 67.1M35.8 76.8L29.9 71.3M35.8 76.8L37.2 91M49.5 78.1L37.2 91M49.5 78.1L14.3 62.7M18.9 93.7L35.8 76.8M18.9 93.7L37.6 62.5M37.2 91L49.5 78.1M37.2 91L18.9 93.7M43.1 105.6L64.4 128.2M56 102L49.2 128.2M37.2 113L43.1 105.6M63.3 111.7L84.4 127.2M64.4 128.2L44 98.5M70.6 128.3L56 102M57.4 64.3L67.9 87.3M57.4 64.3L90.8 82.3M67.9 87.3L78 95.2M67.9 87.3L100.1 83.9M67.9 87.3L100 93.6M75.2 86.4L78 95.2M75.2 86.4L104.3 93.7M75.2 86.4L93.1 106.7M81.7 82.7L89 91.5M81.7 82.7L100.1 83.9M72.1 92.4L78 95.2M72.1 92.4L81.7 82.7M72.1 92.4L100.1 83.9M78 95.2L72.1 92.4M78 95.2L75.2 86.4M78 95.2L95.4 93.5M84.8 93.3L78 95.2M84.8 93.3L78 95.2M84.8 93.3L75.2 102.5M90.8 82.3L93.6 88.8M90.8 82.3L57.4 64.3M90.8 82.3L100 93.6M94.3 78.6L100.1 83.9M94.3 78.6L95.4 93.5M98.4 80.8L100.1 83.9M98.4 80.8L100.1 89.1M98.4 80.8L89.9 102.5M93.6 88.8L94 84.9M93.6 88.8L90.8 82.3M93.6 88.8L93.1 106.7M89 91.5L93.6 88.8M89 91.5L101.9 97.2M89 91.5L67.9 87.3M95.4 93.5L92.8 89.4M95.4 93.5L84.8 93.3M95.4 93.5L94.3 78.6M85.3 97L89 91.5M85.3 97L95.4 93.5M85.3 97L82.6 102.2M75.2 102.5L85.3 97M75.2 102.5L104.3 93.7M82.6 102.2L89.9 102.5M82.6 102.2L87.6 110.7M82.6 102.2L81.7 82.7M89.9 102.5L95.1 101.2M89.9 102.5L82.6 102.2M89.9 102.5L100.1 83.9M95.4 98.9L95.4 93.5M95.4 98.9L97 91.8M95.4 98.9L97 91.8M64.2 106.6L61.8 116.8M64.2 106.6L67.9 87.3M89.4 109L93.1 106.7M89.4 109L98.4 80.8M89.4 109L93.6 88.8M61.8 116.8L79.3 135.2M61.8 116.8L89 91.5M99.5 104.2L101.9 97.2M99.5 104.2L98.4 80.8M99.5 104.2L84.8 93.3M70.6 110.4L82.6 102.2M70.6 110.4L100 93.6M106.1 81.6L106.5 86.3M106.1 81.6L94.3 78.6M106.1 81.6L72.1 92.4M100.1 83.9L100.1 89.1M100.1 83.9L93.6 88.8M100.1 83.9L106.1 81.6M94 84.9L90.8 82.3M94 84.9L64.2 106.6M106.5 86.3L100.1 89.1M106.5 86.3L87.6 110.7M106.5 86.3L89 91.5M100.1 89.1L104.3 93.7M100.1 89.1L90.8 82.3M107.8 90L104.3 93.7M107.8 90L100.1 83.9M107.8 90L101.9 97.2M92.8 89.4L97 91.8M92.8 89.4L72.1 92.4M92.8 89.4L70.6 110.4M97 91.8L93.6 88.8M97 91.8L82.6 102.2M97 91.8L89.9 102.5M104.3 93.7L100.1 89.1M104.3 93.7L94 84.9M104.3 93.7L89 91.5M101.9 97.2L97 91.8M101.9 97.2L64.2 106.6M101.9 97.2L93.1 106.7M95.1 101.2L95.4 93.5M95.1 101.2L107.8 90M91.8 108.2L93.1 106.7M91.8 108.2L99.5 104.2M79.3 135.2L87.6 110.7M79.3 135.2L64.2 106.6M93.1 106.7L89.9 102.5M93.1 106.7L81.7 82.7M100 93.6L104.3 93.7M100 93.6L91.8 108.2M100 93.6L94 84.9M87.6 110.7L93.1 106.7M87.6 110.7L75.2 86.4M87.6 110.7L72.1 92.4M118.4 89.1L118.4 98.6M118.4 89.1L143.2 124M118.4 89.1L122.1 109.3M121.6 93.7L128.5 94M121.6 93.7L107.4 114.8M128.5 94L129.5 104.5M128.5 94L121.2 120.7M128.5 94L118.4 98.6M113.5 95L118.4 89.1M113.5 95L111.4 96.8M113.5 95L113.5 130.8M134.6 97.3L126.7 106.9M134.6 97.3L122.7 105.1M134.6 97.3L119.4 129M118.4 98.6L111.4 96.8M118.4 98.6L124.9 98.3M118.4 98.6L124.9 98.3M124.9 98.3L129.5 104.5M124.9 98.3L117.5 139M124.9 98.3L138.1 131.1M112.9 100.5L105.6 102.8M112.9 100.5L114.8 111.1M112.9 100.5L129.1 117.6M105.6 102.8L111.1 107.6M146.5 106.9L139.2 120.3M146.5 106.9L126.7 106.9M146.5 106.9L112 117.4M97 111.5L96.7 111.1M97 111.5L99 123M97 111.5L93.3 134.4M107.9 106.4L105.6 102.8M107.9 106.4L111.4 96.8M107.9 106.4L118.4 89.1M111.1 107.6L107.9 106.4M111.1 107.6L112 117.4M111.1 107.6L118.4 89.1M111.1 107.6L107.9 106.4M111.4 96.8L107.9 106.4M111.4 96.8L88.4 118.5M111.4 96.8L122.7 105.1M129.5 104.5L122.1 109.3M129.5 104.5L88.4 118.5M129.5 104.5L132.6 133.9M114.8 111.1L122.1 109.3M114.8 111.1L146.5 106.9M114.8 111.1L103.8 126.6M122.7 105.1L129.5 104.5M122.7 105.1L121.2 120.7M122.7 105.1L108.3 133.5M126.7 106.9L122.7 105.1M126.7 106.9L129.1 117.6M126.7 106.9L132.6 133.9M122.1 109.3L122.7 105.1M122.1 109.3L131.3 111.1M122.1 109.3L139.5 115.2M122.1 109.3L129.1 117.6M123.9 113.3L121.2 120.7M123.9 113.3L93.3 134.4M123.9 113.3L112.9 100.5M131.3 111.1L123.9 113.3M131.3 111.1L118.4 98.6M131.3 111.1L118.4 89.1M101.9 114.3L97 111.5M101.9 114.3L122.1 125.6M101.9 114.3L112 117.4M107.4 114.8L101.9 118.3M107.4 114.8L125.8 136.8M107.4 114.8L132.6 133.9M101.9 118.3L100.1 122.9M101.9 118.3L103.8 126.6M101.9 118.3L113.5 121.6M112 117.4L116.2 117M112 117.4L121.2 120.7M112 117.4L134.6 97.3M112 117.4L111.1 107.6M116.2 117L123.9 113.3M116.2 117L124.9 98.3M116.2 117L124.9 98.3M129.1 117.6L128.5 125.3M129.1 117.6L128.5 94M129.1 117.6L99 123M139.5 115.2L131.3 111.1M139.5 115.2L116.2 117M139.5 115.2L113.5 95M139.2 120.3L143.2 124M139.2 120.3L131.3 111.1M139.2 120.3L101.9 118.3M134 122.5L129.1 117.6M134 122.5L119.4 129M134 122.5L101.9 114.3M143.2 124L146.9 131.3M143.2 124L135.9 136.8M143.2 124L131.3 111.1M113.5 121.6L116.2 117M113.5 121.6L119.4 129M113.5 121.6L122.1 109.3M121.2 120.7L122.1 125.6M121.2 120.7L119.4 129M121.2 120.7L118.4 98.6M121.2 120.7L81.3 111.1M100.1 122.9L101.9 114.3M100.1 122.9L113.5 121.6M100.1 122.9L101.9 118.3M107.4 122.9L100.1 122.9M107.4 122.9L131.3 111.1M107.4 122.9L121.6 93.7M103.8 126.6L101.9 118.3M103.8 126.6L135.9 136.8M122.1 125.6L113.5 121.6M122.1 125.6L134 122.5M122.1 125.6L100.1 122.9M128.5 125.3L121.2 120.7M128.5 125.3L103.8 126.6M128.5 125.3L101.9 118.3M113.5 130.8L117.5 139M113.5 130.8L128.5 94M113.5 130.8L122.7 105.1M119.4 129L113.5 130.8M119.4 129L117.5 139M119.4 129L114.8 111.1M108.3 133.5L113.5 130.8M108.3 133.5L113.5 121.6M108.3 133.5L107.4 114.8M93.3 134.4L88.4 118.5M93.3 134.4L129.1 117.6M138.1 131.1L132.6 133.9M138.1 131.1L128.5 125.3M138.1 131.1L112.9 100.5M132.6 133.9L135.9 136.8M132.6 133.9L141.4 142.3M132.6 133.9L123.9 113.3M146.9 131.3L143.2 124M146.9 131.3L139.2 120.3M146.9 131.3L107.4 122.9M135.9 136.8L132.6 133.9M135.9 136.8L147.8 140.5M135.9 136.8L139.2 120.3M135.9 136.8L134.6 97.3M125.8 136.8L122.1 125.6M125.8 136.8L121.2 120.7M125.8 136.8L108.3 133.5M117.5 139L107.9 106.4M117.5 139L113.5 130.8M147.8 140.5L135.9 136.8M147.8 140.5L132.6 133.9M141.4 142.3L147.8 140.5M141.4 142.3L125.8 136.8M123 148.7L125.8 136.8M123 148.7L113.5 130.8M123 148.7L107.4 122.9M81.3 111.1L99 123M81.3 111.1L114.8 111.1M96.7 111.1L107.4 114.8M96.7 111.1L112 117.4M96.7 111.1L122.7 105.1M88.4 118.5L100.1 122.9M99 123L103.8 126.6M99 123L101.9 118.3M99 123L122.1 109.3M98.3 142L99.2 151.4M98.3 142L85.7 161.3M106.1 147.7L99.2 151.4M106.1 147.7L116.6 157.4M115 148.8L106.1 147.7M115 148.8L91.8 146.3M91.8 146.3L98.3 142M91.8 146.3L77.1 164M128.2 154.3L94.6 157.4M116.6 157.4L114.4 168.4M105 156.9L94.6 157.4M99.2 151.4L100.5 154.7M107.4 162.9L99.2 151.4M124.9 164.2L140.5 163.9M140.5 163.9L99.2 151.4M114.4 168.4L103.2 164.8M114.4 168.4L90.6 188.3M93.7 172.7L85.3 168M93.7 172.7L122.1 181.3M107.8 175.4L114.4 168.4M107.8 175.4L81.3 158.9M133.5 180.7L122.1 181.3M133.5 180.7L132.2 187.3M96.1 181.8L107.4 162.9M73 136.1L76.1 148.4M84.8 133.8L83.5 123.6M58.2 143.5L76.1 148.4M88.6 145.7L81.3 158.9M76.1 148.4L81.3 158.9M75.8 153.6L76.1 148.4M83.5 154L75.2 158.9M75.2 158.9L75.8 153.6M81.3 158.9L83.5 154M81.3 158.9L62.9 180.6M65.5 160L77.1 164M85.7 161.3L83.5 154M85.7 161.3L83.5 123.6M90.3 165L93.7 172.7M77.1 164L74.3 169.2M77.1 164L98.3 142M85.3 168L75.2 158.9M78.5 173.2L91.8 146.3M85 178.2L90.6 188.3M49.5 78.1L61.8 116.8M37.2 91L78 95.2M18.9 93.7L78 95.2M26.6 52L72.1 92.4M33.6 67.1L61.8 116.8M35.8 76.8L75.2 86.4M37.2 91L77.4 116.8M48.6 71.3L40.7 124.2M33.6 67.1L40.7 124.2M28.4 78.6L43.1 105.6M77.4 116.8L90.3 165M70.6 128.3L115 148.8M59.3 131.6L106.1 147.7M85.3 97L126.7 106.9M100.1 89.1L131.3 111.1M89.4 109L93.3 134.4M89 91.5L118.4 98.6M97 91.8L122.7 105.1M79.3 135.2L81.3 111.1M98.4 80.8L111.1 107.6M92.8 89.4L114.8 111.1M89 91.5L111.4 96.8M89 91.5L108.3 133.5M101.9 97.2L129.5 104.5M79.3 135.2L105.6 102.8M94.3 78.6L100.1 122.9M75.2 102.5L107.9 106.4M98.4 80.8L99 123M75.2 102.5L99 123M98.4 80.8L96.7 111.1M89 91.5L99 123M84.8 93.3L112.9 100.5M61.8 116.8L107.4 114.8M75.2 102.5L111.4 96.8M87.6 110.7L81.3 111.1M101.9 97.2L118.4 89.1M101.9 97.2L99 123M106.5 86.3L111.4 96.8M87.6 110.7L107.9 106.4M93.6 88.8L108.3 133.5M95.4 93.5L128.5 125.3M101.9 97.2L146.5 106.9M97 91.8L107.4 114.8M61.8 116.8L81.3 111.1M87.6 110.7L122.1 125.6M100.1 83.9L121.6 93.7M95.4 93.5L128.5 94M93.6 88.8L112.9 100.5M70.6 110.4L108.3 133.5M98.4 80.8L113.5 95M95.4 93.5L122.1 125.6M91.8 108.2L113.5 121.6M95.4 98.9L134 122.5M100.1 83.9L99 123M87.6 110.7L107.9 106.4M100.1 83.9L107.4 122.9M95.4 93.5L122.7 105.1M100 93.6L101.9 114.3M90.8 82.3L122.1 109.3M100 93.6L134.6 97.3M95.4 93.5L107.9 106.4M87.6 110.7L88.4 118.5M106.1 81.6L122.7 105.1M81.7 82.7L114.8 111.1M87.6 110.7L107.9 106.4M89 91.5L123.9 113.3M99.5 104.2L113.5 95M78 95.2L107.4 122.9M89.9 102.5L108.3 133.5M100.1 89.1L105.6 102.8M95.4 98.9L97 111.5M75.2 102.5L118.4 89.1M95.1 101.2L111.4 96.8M89 91.5L128.5 94M107.8 90L107.4 114.8M99.5 104.2L101.9 118.3M95.4 93.5L126.7 106.9M89 91.5L113.5 95M106.1 81.6L112.9 100.5M82.6 102.2L129.5 104.5M89.4 109L129.1 117.6M89.4 109L126.7 106.9M84.8 93.3L122.7 105.1M93.6 88.8L124.9 98.3M95.4 98.9L122.1 109.3M106.1 81.6L129.5 104.5M95.4 93.5L107.4 122.9M90.8 82.3L105.6 102.8M106.1 81.6L113.5 121.6M99.5 104.2L101.9 118.3M107.8 90L113.5 130.8M114.8 111.1L105 156.9M97 111.5L75.8 153.6M113.5 130.8L81.3 158.9M111.1 107.6L84.8 133.8M122.1 125.6L99.2 151.4M129.1 117.6L115 148.8M101.9 118.3L73 136.1M125.8 136.8L90.9 168.4M131.3 111.1L106.1 147.7M134 122.5L140.5 163.9M134 122.5L99.2 151.4M141.4 142.3L107.8 175.4M113.5 130.8L90.9 168.4M112 117.4L105 156.9M134.6 97.3L130.7 143.3M135.9 136.8L133.5 180.7M123 148.7L77.1 164" stroke="#f0776a" stroke-opacity="0.5" stroke-width="0.5"/>
<path d="M62.9 103.4L53.2 96.1M43.5 118.7L49.2 128.2M50.8 114.8L43.1 105.6M40.7 124.2L50.8 114.8M77.4 116.8L70.6 128.3M49.2 128.2L46.8 139.3M92.5 123.8L77.4 116.8M84.4 127.2L77.4 116.8" stroke="#f0776a" stroke-opacity="0.32" stroke-width="0.5"/>
<path d="M56 102L78 95.2M63.3 111.7L78 95.2M43.1 105.6L57.4 64.3M70.6 128.3L82.6 102.2M64.4 128.2L91.8 108.2M63.3 111.7L101.9 97.2M62.9 103.4L89.9 102.5M62.9 103.4L87.6 110.7M50.8 114.8L64.2 106.6M77.4 116.8L84.8 93.3M70.6 128.3L97 91.8M69.7 120L89.9 102.5M63.3 111.7L70.6 110.4" stroke="#f0776a" stroke-opacity="0.3" stroke-width="0.5"/>
<path d="M84.4 127.2L121.6 93.7M77.4 116.8L121.6 93.7M69.7 120L100.1 122.9M92.5 123.8L101.9 114.3" stroke="#f0776a" stroke-opacity="0.35" stroke-width="0.5"/>
<path d="M84.8 93.3L76.1 148.4M72.1 92.4L84.8 133.8" stroke="#f0776a" stroke-opacity="0.4" stroke-width="0.5"/>
<path d="M181.2 84.3L139.5 108.5" stroke="#f0776a" stroke-opacity="0.6" stroke-width="0.4"/>
<path d="M158.7 206.5L132.2 187.3M133.5 180.7L174.2 180.6" stroke="#f0776a" stroke-opacity="0.55" stroke-width="0.4"/>
<path d="M158.7 206.5L174.2 180.6M164.3 148.2L143.2 124M121 198.3L107.8 175.4M133.5 180.7L140.5 163.9M148.7 163.9L141.4 142.3M62.9 180.6L65.5 160M57.4 64.3L81.7 82.7" stroke="#f0776a" stroke-opacity="0.5" stroke-width="0.4"/>
<path d="M26.6 52L33.4 58.4M26.6 52L49.5 78.1M20.2 53.9L14.3 62.7M20.2 53.9L23.9 59.7M7.3 61.6L20.2 53.9M14.3 62.7L7.3 61.6M14.3 62.7L29.9 71.3M23.9 59.7L19.3 66.3M23.9 59.7L48.6 71.3M33.4 58.4L33.6 67.1M33.4 58.4L35.8 76.8M37.6 62.5L33.6 67.1M37.6 62.5L18.9 93.7M19.3 66.3L23.9 59.7M19.3 66.3L26.6 52M33.6 67.1L33.4 58.4M29.9 71.3L35.8 76.8M29.9 71.3L37.6 62.5M48.6 71.3L37.6 62.5M48.6 71.3L33.6 67.1M28.4 78.6L33.6 67.1M28.4 78.6L33.4 58.4M35.8 76.8L33.6 67.1M35.8 76.8L26.6 52M49.5 78.1L33.6 67.1M49.5 78.1L37.6 62.5M18.9 93.7L29.9 71.3M18.9 93.7L33.4 58.4M37.2 91L18.9 93.7M37.2 91L23.9 59.7M44 98.5L56 102M37.2 113L46.8 139.3M43.5 118.7L84.4 127.2M55.6 118.7L62.9 103.4M49.2 128.2L63.3 111.7M59.3 131.6L43.5 118.7M57.4 64.3L75.2 86.4M57.4 64.3L94.3 78.6M67.9 87.3L81.7 82.7M67.9 87.3L95.4 98.9M67.9 87.3L89.4 109M75.2 86.4L84.8 93.3M75.2 86.4L98.4 80.8M75.2 86.4L67.9 87.3M81.7 82.7L94 84.9M81.7 82.7L67.9 87.3M72.1 92.4L67.9 87.3M72.1 92.4L85.3 97M72.1 92.4L64.2 106.6M78 95.2L84.8 93.3M78 95.2L89 91.5M84.8 93.3L92.8 89.4M84.8 93.3L95.1 101.2M84.8 93.3L104.3 93.7M90.8 82.3L92.8 89.4M90.8 82.3L99.5 104.2M90.8 82.3L100.1 89.1M94.3 78.6L93.6 88.8M94.3 78.6L100.1 89.1M98.4 80.8L94.3 78.6M98.4 80.8L93.6 88.8M98.4 80.8L82.6 102.2M93.6 88.8L97 91.8M93.6 88.8L95.4 93.5M93.6 88.8L67.9 87.3M89 91.5L85.3 97M89 91.5L85.3 97M89 91.5L100.1 89.1M95.4 93.5L93.6 88.8M95.4 93.5L98.4 80.8M95.4 93.5L75.2 86.4M85.3 97L89.9 102.5M85.3 97L75.2 102.5M75.2 102.5L82.6 102.2M75.2 102.5L99.5 104.2M82.6 102.2L75.2 102.5M82.6 102.2L92.8 89.4M82.6 102.2L98.4 80.8M89.9 102.5L91.8 108.2M89.9 102.5L93.6 88.8M89.9 102.5L99.5 104.2M95.4 98.9L89.9 102.5M95.4 98.9L100.1 89.1M95.4 98.9L106.5 86.3M64.2 106.6L75.2 102.5M64.2 106.6L75.2 86.4M64.2 106.6L75.2 102.5M89.4 109L89.9 102.5M89.4 109L61.8 116.8M89.4 109L72.1 92.4M61.8 116.8L82.6 102.2M61.8 116.8L82.6 102.2M99.5 104.2L91.8 108.2M99.5 104.2L100 93.6M99.5 104.2L75.2 86.4M70.6 110.4L78 95.2M70.6 110.4L72.1 92.4M106.1 81.6L100.1 83.9M106.1 81.6L104.3 93.7M106.1 81.6L104.3 93.7M100.1 83.9L94 84.9M100.1 83.9L106.5 86.3M100.1 83.9L94 84.9M94 84.9L92.8 89.4M94 84.9L98.4 80.8M94 84.9L93.6 88.8M106.5 86.3L104.3 93.7M106.5 86.3L100.1 83.9M106.5 86.3L75.2 86.4M100.1 89.1L95.4 93.5M100.1 89.1L92.8 89.4M107.8 90L100.1 89.1M107.8 90L92.8 89.4M107.8 90L75.2 86.4M92.8 89.4L95.4 93.5M92.8 89.4L90.8 82.3M92.8 89.4L89.9 102.5M97 91.8L92.8 89.4M97 91.8L75.2 86.4M97 91.8L95.1 101.2M104.3 93.7L97 91.8M104.3 93.7L106.1 81.6M104.3 93.7L81.7 82.7M101.9 97.2L99.5 104.2M101.9 97.2L100.1 89.1M95.1 101.2L95.4 98.9M95.1 101.2L91.8 108.2M95.1 101.2L98.4 80.8M91.8 108.2L89.4 109M91.8 108.2L95.4 98.9M91.8 108.2L79.3 135.2M79.3 135.2L70.6 110.4M93.1 106.7L95.1 101.2M93.1 106.7L79.3 135.2M93.1 106.7L89.9 102.5M100 93.6L100.1 89.1M100 93.6L95.1 101.2M100 93.6L72.1 92.4M87.6 110.7L89.9 102.5M87.6 110.7L75.2 86.4M87.6 110.7L100.1 83.9M118.4 89.1L111.4 96.8M118.4 89.1L124.9 98.3M118.4 89.1L101.9 118.3M121.6 93.7L113.5 95M121.6 93.7L113.5 95M121.6 93.7L111.1 107.6M128.5 94L118.4 98.6M128.5 94L97 111.5M128.5 94L146.9 131.3M113.5 95L121.6 93.7M113.5 95L139.5 115.2M113.5 95L113.5 130.8M134.6 97.3L121.6 93.7M134.6 97.3L105.6 102.8M118.4 98.6L112.9 100.5M118.4 98.6L122.7 105.1M118.4 98.6L146.5 106.9M124.9 98.3L128.5 94M124.9 98.3L126.7 106.9M124.9 98.3L117.5 139M112.9 100.5L111.4 96.8M112.9 100.5L107.9 106.4M112.9 100.5L135.9 136.8M105.6 102.8L107.9 106.4M105.6 102.8L101.9 114.3M105.6 102.8L124.9 98.3M146.5 106.9L134.6 97.3M146.5 106.9L116.2 117M146.5 106.9L118.4 89.1M97 111.5L101.9 114.3M97 111.5L100.1 122.9M97 111.5L129.5 104.5M107.9 106.4L112.9 100.5M107.9 106.4L99 123M107.9 106.4L81.3 111.1M111.1 107.6L114.8 111.1M111.1 107.6L116.2 117M111.1 107.6L111.4 96.8M111.4 96.8L113.5 95M111.4 96.8L118.4 89.1M111.4 96.8L113.5 121.6M129.5 104.5L126.7 106.9M129.5 104.5L134.6 97.3M129.5 104.5L146.9 131.3M129.5 104.5L108.3 133.5M114.8 111.1L107.4 114.8M114.8 111.1L135.9 136.8M114.8 111.1L111.4 96.8M122.7 105.1L124.9 98.3M122.7 105.1L111.4 96.8M122.7 105.1L128.5 94M126.7 106.9L122.1 109.3M126.7 106.9L121.2 120.7M126.7 106.9L128.5 94M122.1 109.3L123.9 113.3M122.1 109.3L116.2 117M122.1 109.3L128.5 125.3M123.9 113.3L122.1 109.3M123.9 113.3L122.7 105.1M123.9 113.3L146.5 106.9M123.9 113.3L121.6 93.7M131.3 111.1L139.5 115.2M131.3 111.1L103.8 126.6M131.3 111.1L93.3 134.4M101.9 114.3L96.7 111.1M101.9 114.3L143.2 124M101.9 114.3L139.2 120.3M107.4 114.8L111.1 107.6M107.4 114.8L88.4 118.5M107.4 114.8L141.4 142.3M101.9 118.3L99 123M101.9 118.3L81.3 111.1M101.9 118.3L118.4 98.6M112 117.4L113.5 121.6M112 117.4L111.1 107.6M112 117.4L128.5 125.3M116.2 117L112 117.4M116.2 117L107.4 114.8M116.2 117L134 122.5M116.2 117L122.1 125.6M129.1 117.6L121.2 120.7M129.1 117.6L107.9 106.4M129.1 117.6L134.6 97.3M139.5 115.2L143.2 124M139.5 115.2L99 123M139.5 115.2L121.6 93.7M139.2 120.3L134 122.5M139.2 120.3L123.9 113.3M139.2 120.3L97 111.5M134 122.5L139.5 115.2M134 122.5L117.5 139M134 122.5L129.5 104.5M143.2 124L138.1 131.1M143.2 124L112.9 100.5M113.5 121.6L107.4 122.9M113.5 121.6L114.8 111.1M121.2 120.7L116.2 117M121.2 120.7L128.5 125.3M121.2 120.7L113.5 130.8M100.1 122.9L99 123M100.1 122.9L107.4 114.8M100.1 122.9L129.1 117.6M107.4 122.9L103.8 126.6M107.4 122.9L107.4 114.8M107.4 122.9L112 117.4M103.8 126.6L107.4 122.9M103.8 126.6L113.5 130.8M103.8 126.6L113.5 130.8M103.8 126.6L126.7 106.9M122.1 125.6L113.5 130.8M122.1 125.6L97 111.5M122.1 125.6L113.5 95M128.5 125.3L132.6 133.9M128.5 125.3L100.1 122.9M128.5 125.3L107.9 106.4M113.5 130.8L113.5 121.6M113.5 130.8L93.3 134.4M113.5 130.8L118.4 89.1M119.4 129L121.2 120.7M119.4 129L146.5 106.9M119.4 129L117.5 139M108.3 133.5L103.8 126.6M108.3 133.5L100.1 122.9M108.3 133.5L114.8 111.1M93.3 134.4L99 123M93.3 134.4L107.4 122.9M93.3 134.4L107.4 114.8M138.1 131.1L143.2 124M138.1 131.1L108.3 133.5M138.1 131.1L122.1 125.6M132.6 133.9L138.1 131.1M132.6 133.9L122.1 125.6M132.6 133.9L139.5 115.2M146.9 131.3L138.1 131.1M146.9 131.3L139.5 115.2M135.9 136.8L138.1 131.1M135.9 136.8L128.5 125.3M135.9 136.8L128.5 125.3M125.8 136.8L132.6 133.9M125.8 136.8L128.5 125.3M125.8 136.8L111.1 107.6M125.8 136.8L146.9 131.3M117.5 139L123 148.7M117.5 139L103.8 126.6M117.5 139L97 111.5M147.8 140.5L138.1 131.1M147.8 140.5L131.3 111.1M141.4 142.3L135.9 136.8M141.4 142.3L143.2 124M141.4 142.3L134 122.5M123 148.7L135.9 136.8M123 148.7L114.8 111.1M81.3 111.1L88.4 118.5M81.3 111.1L101.9 118.3M96.7 111.1L97 111.5M96.7 111.1L99 123M96.7 111.1L128.5 125.3M88.4 118.5L81.3 111.1M88.4 118.5L101.9 118.3M88.4 118.5L122.1 125.6M99 123L107.4 122.9M99 123L123.9 113.3M99 123L134 122.5M98.3 142L106.1 147.7M98.3 142L85 178.2M130.7 143.3L124.9 164.2M106.1 147.7L100.5 154.7M115 148.8L132.2 187.3M91.8 146.3L99.2 151.4M128.2 154.3L116.6 157.4M128.2 154.3L124.9 164.2M116.6 157.4L76.1 148.4M105 156.9L106.1 147.7M105 156.9L100.5 154.7M94.6 157.4L100.5 154.7M99.2 151.4L91.8 146.3M107.4 162.9L114.4 168.4M107.4 162.9L75.8 153.6M94.6 163.5L90.9 168.4M94.6 163.5L128.2 154.3M124.9 164.2L122.1 181.3M114.4 168.4L107.4 162.9M114.4 168.4L85.7 161.3M93.7 172.7L90.9 168.4M93.7 172.7L98.3 142M90.9 168.4L90.3 165M107.8 175.4L76.1 148.4M133.5 180.7L140.5 163.9M122.1 181.3L133.5 180.7M96.1 181.8L93.7 172.7M132.2 187.3L124.9 164.2M90.6 188.3L65.5 160M84.8 133.8L74.3 169.2M68.8 144.8L65.5 160M76.1 148.4L75.8 153.6M76.1 148.4L107.4 162.9M75.8 153.6L83.5 154M83.5 154L81.3 158.9M83.5 154L68.8 144.8M75.2 158.9L77.1 164M75.2 158.9L93.7 172.7M81.3 158.9L75.2 158.9M81.3 158.9L115 148.8M65.5 160L74.3 169.2M65.5 160L76.1 148.4M90.3 165L90.9 168.4M90.3 165L78.5 173.2M77.1 164L81.3 158.9M77.1 164L81.3 158.9M74.3 169.2L78.5 173.2M85.3 168L78.5 173.2M85.3 168L58.2 143.5M78.5 173.2L77.1 164M62.9 180.6L77.1 164M85 178.2L78.5 173.2M33.4 58.4L70.6 110.4M28.4 78.6L75.2 86.4M19.3 66.3L61.8 116.8M28.4 78.6L70.6 110.4M20.2 53.9L61.8 116.8M49.5 78.1L61.8 116.8M20.2 53.9L67.9 87.3M35.8 76.8L95.4 93.5M33.4 58.4L98.4 80.8M28.4 78.6L97 91.8M37.6 62.5L98.4 80.8M48.6 71.3L98.4 80.8M37.2 91L43.5 118.7M29.9 71.3L62.9 103.4M37.2 91L40.7 124.2M28.4 78.6L50.8 114.8M33.6 67.1L43.5 118.7M37.2 91L56 102M101.9 97.2L105.6 102.8M93.6 88.8L116.2 117M92.8 89.4L99 123M75.2 102.5L107.9 106.4M78 95.2L122.7 105.1M98.4 80.8L88.4 118.5M107.8 90L81.3 111.1M101.9 97.2L139.5 115.2M89.9 102.5L105.6 102.8M92.8 89.4L121.6 93.7M106.1 81.6L107.4 122.9M72.1 92.4L99 123M93.6 88.8L96.7 111.1M92.8 89.4L116.2 117M61.8 116.8L107.9 106.4M95.4 98.9L101.9 118.3M101.9 97.2L93.3 134.4M94.3 78.6L99 123M106.1 81.6L134.6 97.3M89.4 109L117.5 139M91.8 108.2L101.9 118.3M100.1 89.1L97 111.5M100.1 83.9L88.4 118.5M85.3 97L121.2 120.7M92.8 89.4L113.5 95M95.4 93.5L128.5 125.3M91.8 108.2L101.9 114.3M101.9 97.2L122.1 109.3M100.1 83.9L134.6 97.3M89.4 109L97 111.5M104.3 93.7L126.7 106.9M89.9 102.5L121.6 93.7M85.3 97L113.5 95M78 95.2L108.3 133.5M84.8 93.3L107.9 106.4M95.1 101.2L119.4 129M79.3 135.2L100.1 122.9M106.5 86.3L101.9 114.3M78 95.2L113.5 121.6M89.4 109L111.4 96.8M101.9 97.2L128.5 94M89 91.5L88.4 118.5M107.8 90L111.4 96.8M90.8 82.3L103.8 126.6M84.8 93.3L101.9 118.3M106.1 81.6L122.1 125.6M85.3 97L103.8 126.6M75.2 102.5L124.9 98.3M100.1 89.1L112.9 100.5M93.6 88.8L97 111.5M70.6 110.4L114.8 111.1M89.9 102.5L118.4 98.6M101.9 97.2L139.5 115.2M95.4 93.5L121.2 120.7M106.1 81.6L101.9 114.3M101.9 97.2L132.6 133.9M72.1 92.4L112.9 100.5M70.6 110.4L118.4 98.6M99.5 104.2L105.6 102.8M95.4 98.9L112.9 100.5M92.8 89.4L101.9 118.3M100.1 89.1L113.5 130.8M94.3 78.6L101.9 114.3M106.1 81.6L121.2 120.7M99.5 104.2L105.6 102.8M93.1 106.7L131.3 111.1M90.8 82.3L101.9 114.3M97 91.8L134 122.5M107.8 90L118.4 98.6M104.3 93.7L112.9 100.5M106.1 81.6L88.4 118.5M91.8 108.2L139.2 120.3M89 91.5L122.7 105.1M89.4 109L132.6 133.9M93.6 88.8L96.7 111.1M78 95.2L88.4 118.5M72.1 92.4L121.6 93.7M95.4 98.9L103.8 126.6M101.9 118.3L128.2 154.3M81.3 111.1L76.1 148.4M108.3 133.5L88.6 145.7M135.9 136.8L99.2 151.4M118.4 98.6L130.7 143.3M121.2 120.7L103.2 164.8M128.5 125.3L148.7 163.9M99 123L90.3 165M134 122.5L130.7 143.3M100.1 122.9L94.6 163.5M122.1 125.6L130.7 143.3M131.3 111.1L116.6 157.4M114.8 111.1L84.8 133.8M121.2 120.7L100.5 154.7M119.4 129L91.8 146.3M108.3 133.5L91.8 146.3M113.5 121.6L81.3 158.9M132.6 133.9L148.7 163.9M103.8 126.6L85.7 161.3" stroke="#f0776a" stroke-opacity="0.5" stroke-width="0.5"/>
<path d="M43.1 105.6L37.2 113M56 102L53.2 96.1M50.8 114.8L63.3 111.7M63.3 111.7L69.7 120M69.7 120L77.4 116.8M77.4 116.8L63.3 111.7M92.5 123.8L70.6 128.3M59.3 131.6L64.4 128.2M46.8 139.3L64.4 128.2" stroke="#f0776a" stroke-opacity="0.32" stroke-width="0.5"/>
<path d="M70.6 128.3L75.2 86.4M59.3 131.6L85.3 97M92.5 123.8L75.2 86.4M77.4 116.8L94 84.9M56 102L85.3 97M84.4 127.2L81.7 82.7M53.2 96.1L61.8 116.8M92.5 123.8L106.1 81.6M84.4 127.2L93.6 88.8M62.9 103.4L91.8 108.2" stroke="#f0776a" stroke-opacity="0.3" stroke-width="0.5"/>
<path d="M92.5 123.8L122.7 105.1M92.5 123.8L138.1 131.1M59.3 131.6L96.7 111.1M77.4 116.8L107.9 106.4M70.6 128.3L129.1 117.6" stroke="#f0776a" stroke-opacity="0.35" stroke-width="0.5"/>
<path d="M205 102L141 114.5" stroke="#f0776a" stroke-opacity="0.6" stroke-width="0.4"/>
<path d="M158.7 206.5L121 198.3M173.5 217.4L132.2 187.3" stroke="#f0776a" stroke-opacity="0.55" stroke-width="0.4"/>
<path d="M164.3 148.2L146.9 131.3M121 198.3L133.5 180.7M133.5 180.7L116.6 157.4M140.5 163.9L141.4 142.3M62.9 180.6L74.3 169.2M57.4 64.3L75.2 86.4" stroke="#f0776a" stroke-opacity="0.5" stroke-width="0.4"/>
<path d="M73 197.1L74.3 169.2" stroke="#f0776a" stroke-opacity="0.65" stroke-width="0.6"/>
<path d="M158.7 206.5L173.5 217.4" stroke="#f0776a" stroke-opacity="0.6" stroke-width="0.5"/>
<path d="M20.2 53.9L19.3 66.3M20.2 53.9L23.9 59.7M7.3 61.6L23.9 59.7M14.3 62.7L23.9 59.7M14.3 62.7L48.6 71.3M23.9 59.7L26.6 52M23.9 59.7L28.4 78.6M37.6 62.5L29.9 71.3M37.6 62.5L33.6 67.1M19.3 66.3L29.9 71.3M19.3 66.3L33.4 58.4M33.6 67.1L35.8 76.8M29.9 71.3L23.9 59.7M48.6 71.3L33.6 67.1M48.6 71.3L33.4 58.4M28.4 78.6L19.3 66.3M35.8 76.8L49.5 78.1M35.8 76.8L33.6 67.1M49.5 78.1L37.6 62.5M49.5 78.1L37.2 91M18.9 93.7L19.3 66.3M44 98.5L62.9 103.4M53.2 96.1L40.7 124.2M62.9 103.4L84.4 127.2M43.5 118.7L84.4 127.2M40.7 124.2L64.4 128.2M77.4 116.8L55.6 118.7M49.2 128.2L64.4 128.2M46.8 139.3L53.2 96.1M57.4 64.3L81.7 82.7M57.4 64.3L75.2 86.4M67.9 87.3L75.2 102.5M67.9 87.3L95.4 93.5M75.2 86.4L72.1 92.4M75.2 86.4L85.3 97M75.2 86.4L101.9 97.2M81.7 82.7L75.2 86.4M81.7 82.7L92.8 89.4M81.7 82.7L82.6 102.2M72.1 92.4L75.2 86.4M72.1 92.4L89.9 102.5M72.1 92.4L95.4 93.5M78 95.2L85.3 97M78 95.2L95.1 101.2M78 95.2L92.8 89.4M84.8 93.3L82.6 102.2M84.8 93.3L106.1 81.6M90.8 82.3L98.4 80.8M90.8 82.3L95.4 93.5M94.3 78.6L98.4 80.8M94.3 78.6L92.8 89.4M94.3 78.6L94 84.9M98.4 80.8L94 84.9M98.4 80.8L93.6 88.8M98.4 80.8L94 84.9M93.6 88.8L95.4 93.5M93.6 88.8L89 91.5M93.6 88.8L106.5 86.3M89 91.5L95.4 93.5M89 91.5L82.6 102.2M89 91.5L97 91.8M95.4 93.5L95.4 98.9M95.4 93.5L84.8 93.3M95.4 93.5L89.4 109M85.3 97L78 95.2M85.3 97L91.8 108.2M75.2 102.5L78 95.2M75.2 102.5L84.8 93.3M75.2 102.5L106.1 81.6M82.6 102.2L78 95.2M82.6 102.2L64.2 106.6M82.6 102.2L81.7 82.7M89.9 102.5L89.4 109M89.9 102.5L89 91.5M95.4 98.9L99.5 104.2M95.4 98.9L97 91.8M95.4 98.9L94 84.9M64.2 106.6L72.1 92.4M64.2 106.6L61.8 116.8M64.2 106.6L92.8 89.4M89.4 109L82.6 102.2M89.4 109L92.8 89.4M61.8 116.8L64.2 106.6M61.8 116.8L72.1 92.4M99.5 104.2L95.1 101.2M99.5 104.2L89.9 102.5M99.5 104.2L72.1 92.4M70.6 110.4L64.2 106.6M70.6 110.4L87.6 110.7M70.6 110.4L89 91.5M106.1 81.6L98.4 80.8M106.1 81.6L85.3 97M106.1 81.6L72.1 92.4M100.1 83.9L106.1 81.6M100.1 83.9L89.4 109M100.1 83.9L85.3 97M94 84.9L98.4 80.8M94 84.9L78 95.2M106.5 86.3L107.8 90M106.5 86.3L100 93.6M106.5 86.3L93.6 88.8M100.1 89.1L97 91.8M100.1 89.1L93.6 88.8M100.1 89.1L89.4 109M107.8 90L106.1 81.6M107.8 90L97 91.8M92.8 89.4L93.6 88.8M92.8 89.4L100.1 89.1M92.8 89.4L104.3 93.7M97 91.8L95.4 93.5M97 91.8L95.4 98.9M97 91.8L94 84.9M104.3 93.7L101.9 97.2M104.3 93.7L106.5 86.3M104.3 93.7L106.1 81.6M101.9 97.2L100 93.6M101.9 97.2L95.4 93.5M101.9 97.2L106.1 81.6M95.1 101.2L99.5 104.2M95.1 101.2L101.9 97.2M95.1 101.2L95.4 98.9M91.8 108.2L87.6 110.7M91.8 108.2L75.2 86.4M91.8 108.2L95.4 93.5M79.3 135.2L89.4 109M79.3 135.2L75.2 102.5M93.1 106.7L87.6 110.7M93.1 106.7L95.1 101.2M93.1 106.7L95.4 93.5M100 93.6L95.4 93.5M100 93.6L67.9 87.3M100 93.6L93.6 88.8M87.6 110.7L82.6 102.2M87.6 110.7L100 93.6M87.6 110.7L85.3 97M118.4 89.1L128.5 94M118.4 89.1L111.4 96.8M121.6 93.7L118.4 89.1M121.6 93.7L111.4 96.8M121.6 93.7L111.4 96.8M128.5 94L124.9 98.3M128.5 94L118.4 89.1M128.5 94L111.4 96.8M113.5 95L111.4 96.8M113.5 95L105.6 102.8M113.5 95L121.2 120.7M134.6 97.3L128.5 94M134.6 97.3L131.3 111.1M134.6 97.3L146.9 131.3M118.4 98.6L121.6 93.7M118.4 98.6L118.4 89.1M118.4 98.6L123.9 113.3M124.9 98.3L121.6 93.7M124.9 98.3L134.6 97.3M124.9 98.3L99 123M112.9 100.5L113.5 95M112.9 100.5L114.8 111.1M112.9 100.5L97 111.5M105.6 102.8L111.1 107.6M105.6 102.8L107.4 114.8M105.6 102.8L134 122.5M146.5 106.9L131.3 111.1M146.5 106.9L112.9 100.5M146.5 106.9L129.1 117.6M97 111.5L101.9 118.3M97 111.5L105.6 102.8M97 111.5L107.4 114.8M107.9 106.4L114.8 111.1M107.9 106.4L135.9 136.8M107.9 106.4L114.8 111.1M111.1 107.6L105.6 102.8M111.1 107.6L131.3 111.1M111.1 107.6L93.3 134.4M111.4 96.8L112.9 100.5M111.4 96.8L121.6 93.7M111.4 96.8L100.1 122.9M129.5 104.5L122.7 105.1M129.5 104.5L123.9 113.3M129.5 104.5L138.1 131.1M114.8 111.1L111.1 107.6M114.8 111.1L107.9 106.4M114.8 111.1L105.6 102.8M114.8 111.1L101.9 114.3M122.7 105.1L118.4 98.6M122.7 105.1L123 148.7M122.7 105.1L103.8 126.6M126.7 106.9L131.3 111.1M126.7 106.9L119.4 129M126.7 106.9L134 122.5M122.1 109.3L126.7 106.9M122.1 109.3L135.9 136.8M122.1 109.3L113.5 95M123.9 113.3L129.1 117.6M123.9 113.3L116.2 117M131.3 111.1L126.7 106.9M131.3 111.1L122.1 109.3M131.3 111.1L134 122.5M131.3 111.1L119.4 129M101.9 114.3L100.1 122.9M101.9 114.3L81.3 111.1M101.9 114.3L123 148.7M107.4 114.8L107.4 122.9M107.4 114.8L88.4 118.5M107.4 114.8L81.3 111.1M101.9 118.3L107.4 114.8M101.9 118.3L122.1 125.6M101.9 118.3L113.5 121.6M112 117.4L107.4 114.8M112 117.4L123 148.7M112 117.4L122.7 105.1M116.2 117L113.5 121.6M116.2 117L122.1 109.3M116.2 117L146.5 106.9M129.1 117.6L123.9 113.3M129.1 117.6L139.2 120.3M129.1 117.6L121.6 93.7M129.1 117.6L108.3 133.5M139.5 115.2L129.1 117.6M139.5 115.2L114.8 111.1M139.5 115.2L113.5 95M139.2 120.3L129.1 117.6M139.2 120.3L147.8 140.5M139.2 120.3L146.5 106.9M134 122.5L143.2 124M134 122.5L139.2 120.3M134 122.5L108.3 133.5M143.2 124L134 122.5M143.2 124L122.1 125.6M143.2 124L121.2 120.7M113.5 121.6L121.2 120.7M113.5 121.6L124.9 98.3M113.5 121.6L81.3 111.1M121.2 120.7L113.5 121.6M121.2 120.7L88.4 118.5M121.2 120.7L147.8 140.5M100.1 122.9L97 111.5M100.1 122.9L143.2 124M107.4 122.9L113.5 121.6M107.4 122.9L99 123M107.4 122.9L113.5 95M103.8 126.6L100.1 122.9M103.8 126.6L113.5 121.6M103.8 126.6L134 122.5M122.1 125.6L119.4 129M122.1 125.6L116.2 117M122.1 125.6L121.6 93.7M128.5 125.3L134 122.5M128.5 125.3L119.4 129M128.5 125.3L132.6 133.9M128.5 125.3L139.5 115.2M113.5 130.8L107.4 122.9M113.5 130.8L132.6 133.9M113.5 130.8L128.5 94M119.4 129L113.5 121.6M119.4 129L121.2 120.7M119.4 129L88.4 118.5M108.3 133.5L107.4 122.9M108.3 133.5L101.9 114.3M108.3 133.5L131.3 111.1M93.3 134.4L103.8 126.6M93.3 134.4L101.9 118.3M93.3 134.4L111.1 107.6M138.1 131.1L146.9 131.3M138.1 131.1L105.6 102.8M138.1 131.1L99 123M132.6 133.9L125.8 136.8M132.6 133.9L123 148.7M132.6 133.9L128.5 125.3M146.9 131.3L147.8 140.5M146.9 131.3L122.7 105.1M146.9 131.3L125.8 136.8M135.9 136.8L141.4 142.3M135.9 136.8L103.8 126.6M135.9 136.8L100.1 122.9M125.8 136.8L117.5 139M125.8 136.8L123 148.7M125.8 136.8L113.5 95M117.5 139L125.8 136.8M117.5 139L122.1 125.6M117.5 139L93.3 134.4M117.5 139L121.2 120.7M147.8 140.5L132.6 133.9M147.8 140.5L114.8 111.1M141.4 142.3L119.4 129M141.4 142.3L113.5 130.8M123 148.7L132.6 133.9M123 148.7L107.4 114.8M81.3 111.1L96.7 111.1M81.3 111.1L100.1 122.9M96.7 111.1L101.9 114.3M96.7 111.1L107.9 106.4M96.7 111.1L121.2 120.7M88.4 118.5L97 111.5M88.4 118.5L101.9 114.3M88.4 118.5L118.4 89.1M99 123L101.9 114.3M99 123L135.9 136.8M83.5 123.6L84.8 133.8M83.5 123.6L85.3 168M98.3 142L88.6 145.7M98.3 142L130.7 143.3M130.7 143.3L140.5 163.9M106.1 147.7L115 148.8M106.1 147.7L130.7 143.3M115 148.8L90.3 165M105 156.9L65.5 160M100.5 154.7L99.2 151.4M100.5 154.7L122.1 181.3M94.6 157.4L58.2 143.5M99.2 151.4L106.1 147.7M99.2 151.4L77.1 164M94.6 163.5L77.1 164M103.2 164.8L94.6 157.4M124.9 164.2L128.2 154.3M124.9 164.2L94.6 163.5M140.5 163.9L133.5 180.7M148.7 163.9L128.2 154.3M114.4 168.4L107.8 175.4M114.4 168.4L106.1 147.7M93.7 172.7L90.3 165M93.7 172.7L103.2 164.8M90.9 168.4L107.4 162.9M107.8 175.4L107.4 162.9M133.5 180.7L124.9 164.2M96.1 181.8L85 178.2M96.1 181.8L107.8 175.4M132.2 187.3L140.5 163.9M90.6 188.3L85 178.2M73 136.1L58.2 143.5M58.2 143.5L68.8 144.8M58.2 143.5L90.3 165M88.6 145.7L84.8 133.8M76.1 148.4L77.1 164M83.5 154L85.7 161.3M83.5 154L124.9 164.2M75.2 158.9L81.3 158.9M81.3 158.9L90.9 168.4M77.1 164L85.7 161.3M85.3 168L77.1 164M85.3 168L122.1 181.3M78.5 173.2L90.9 168.4M78.5 173.2L106.1 147.7M62.9 180.6L85 178.2M85 178.2L85.3 168M85 178.2L115 148.8M33.6 67.1L72.1 92.4M18.9 93.7L72.1 92.4M26.6 52L67.9 87.3M7.3 61.6L64.2 106.6M35.8 76.8L61.8 116.8M48.6 71.3L70.6 110.4M33.4 58.4L98.4 80.8M19.3 66.3L37.2 113M33.6 67.1L43.5 118.7M29.9 71.3L40.7 124.2M33.6 67.1L43.5 118.7M35.8 76.8L69.7 120M33.6 67.1L37.2 113M33.6 67.1L56 102M92.5 123.8L88.6 145.7M106.5 86.3L93.3 134.4M64.2 106.6L88.4 118.5M100 93.6L128.5 94M89.9 102.5L105.6 102.8M100.1 83.9L122.1 109.3M78 95.2L96.7 111.1M99.5 104.2L125.8 136.8M99.5 104.2L96.7 111.1M95.1 101.2L101.9 118.3M81.7 82.7L124.9 98.3M99.5 104.2L139.5 115.2M106.5 86.3L97 111.5M95.4 93.5L113.5 121.6M99.5 104.2L132.6 133.9M70.6 110.4L116.2 117M100.1 89.1L88.4 118.5M91.8 108.2L93.3 134.4M104.3 93.7L117.5 139M93.1 106.7L124.9 98.3M93.1 106.7L128.5 94M95.4 93.5L131.3 111.1M98.4 80.8L103.8 126.6M99.5 104.2L135.9 136.8M85.3 97L126.7 106.9M82.6 102.2L111.1 107.6M97 91.8L88.4 118.5M100.1 89.1L101.9 114.3M93.1 106.7L132.6 133.9M67.9 87.3L107.4 114.8M100.1 83.9L134.6 97.3M89.4 109L129.5 104.5M89 91.5L113.5 130.8M95.4 93.5L101.9 118.3M107.8 90L103.8 126.6M100.1 83.9L97 111.5M100 93.6L119.4 129M106.5 86.3L122.1 109.3M89.9 102.5L126.7 106.9M98.4 80.8L81.3 111.1M78 95.2L99 123M99.5 104.2L97 111.5M97 91.8L81.3 111.1M93.6 88.8L105.6 102.8M90.8 82.3L105.6 102.8M95.4 93.5L107.4 122.9M101.9 97.2L121.2 120.7M90.8 82.3L126.7 106.9M95.4 98.9L121.2 120.7M90.8 82.3L97 111.5M97 91.8L128.5 125.3M78 95.2L101.9 114.3M100 93.6L128.5 94M92.8 89.4L118.4 98.6M95.4 93.5L124.9 98.3M82.6 102.2L113.5 95M78 95.2L107.4 122.9M100 93.6L131.3 111.1M101.9 97.2L103.8 126.6M106.1 81.6L100.1 122.9M85.3 97L96.7 111.1M89.4 109L81.3 111.1M107.8 90L122.1 109.3M95.4 98.9L139.2 120.3M93.1 106.7L131.3 111.1M82.6 102.2L93.3 134.4M75.2 102.5L113.5 130.8M78 95.2L118.4 98.6M91.8 108.2L111.4 96.8M91.8 108.2L93.3 134.4M89.9 102.5L129.5 104.5M101.9 97.2L105.6 102.8M93.1 106.7L88.4 118.5M84.8 93.3L118.4 98.6M92.8 89.4L107.4 122.9M90.8 82.3L113.5 95M89.4 109L118.4 98.6M111.4 96.8L84.8 133.8M88.4 118.5L107.4 162.9M108.3 133.5L76.1 148.4M128.5 125.3L84.8 133.8M96.7 111.1L91.8 146.3M122.1 109.3L99.2 151.4M93.3 134.4L105 156.9M93.3 134.4L74.3 169.2M117.5 139L115 148.8M101.9 114.3L107.4 162.9M99 123L105 156.9M88.4 118.5L106.1 147.7M107.4 122.9L124.9 164.2M141.4 142.3L114.4 168.4M135.9 136.8L133.5 180.7M139.2 120.3L115 148.8M100.1 122.9L116.6 157.4M138.1 131.1L106.1 147.7M108.3 133.5L128.2 154.3M113.5 121.6L130.7 143.3M132.2 187.3L158.7 206.5" stroke="#f0776a" stroke-opacity="0.5" stroke-width="0.5"/>
<path d="M44 98.5L43.1 105.6M43.1 105.6L50.8 114.8M43.5 118.7L40.7 124.2M55.6 118.7L49.2 128.2M64.4 128.2L69.7 120M49.2 128.2L40.7 124.2M92.5 123.8L69.7 120M84.4 127.2L69.7 120M70.6 128.3L77.4 116.8M59.3 131.6L49.2 128.2" stroke="#f0776a" stroke-opacity="0.32" stroke-width="0.5"/>
<path d="M50.8 114.8L78 95.2M84.4 127.2L81.7 82.7M63.3 111.7L72.1 92.4M59.3 131.6L91.8 108.2M63.3 111.7L100.1 83.9M56 102L97 91.8M53.2 96.1L100.1 83.9M50.8 114.8L92.8 89.4M92.5 123.8L104.3 93.7M62.9 103.4L95.4 93.5M69.7 120L94 84.9" stroke="#f0776a" stroke-opacity="0.3" stroke-width="0.5"/>
<path d="M77.4 116.8L81.3 111.1M69.7 120L121.2 120.7M70.6 128.3L103.8 126.6M84.4 127.2L112 117.4M50.8 114.8L101.9 118.3" stroke="#f0776a" stroke-opacity="0.35" stroke-width="0.5"/>
<path d="M99.5 104.2L98.3 142M70.6 110.4L98.3 142M78 95.2L75.8 153.6M84.8 93.3L88.6 145.7M79.3 135.2L78.5 173.2M75.2 102.5L99.2 151.4M82.6 102.2L76.1 148.4" stroke="#f0776a" stroke-opacity="0.4" stroke-width="0.5"/>
<path d="M29.9 209.6L62.9 180.6M73 197.1L85 178.2" stroke="#f0776a" stroke-opacity="0.65" stroke-width="0.6"/>
<path d="M158.7 206.5L133.5 180.7M173.5 217.4L133.5 180.7" stroke="#f0776a" stroke-opacity="0.55" stroke-width="0.4"/>
<path d="M174.2 180.6L148.7 163.9M164.3 148.2L148.7 163.9M132.2 187.3L133.5 180.7M122.1 181.3L114.4 168.4M96.1 181.8L93.7 172.7M124.9 164.2L148.7 163.9M57.4 64.3L98.4 80.8" stroke="#f0776a" stroke-opacity="0.5" stroke-width="0.4"/>
<path d="M26.6 52L19.3 66.3M20.2 53.9L29.9 71.3M14.3 62.7L20.2 53.9M14.3 62.7L29.9 71.3M23.9 59.7L33.4 58.4M33.4 58.4L23.9 59.7M33.4 58.4L18.9 93.7M37.6 62.5L23.9 59.7M37.6 62.5L49.5 78.1M19.3 66.3L20.2 53.9M19.3 66.3L26.6 52M33.6 67.1L23.9 59.7M33.6 67.1L7.3 61.6M29.9 71.3L19.3 66.3M29.9 71.3L28.4 78.6M48.6 71.3L29.9 71.3M48.6 71.3L37.6 62.5M28.4 78.6L19.3 66.3M28.4 78.6L48.6 71.3M35.8 76.8L48.6 71.3M49.5 78.1L48.6 71.3M49.5 78.1L28.4 78.6M18.9 93.7L28.4 78.6M18.9 93.7L7.3 61.6M37.2 91L35.8 76.8M37.2 91L33.4 58.4M62.9 103.4L92.5 123.8M50.8 114.8L56 102M63.3 111.7L70.6 128.3M77.4 116.8L70.6 128.3M49.2 128.2L55.6 118.7M70.6 128.3L43.5 118.7M57.4 64.3L72.1 92.4M67.9 87.3L72.1 92.4M67.9 87.3L84.8 93.3M67.9 87.3L57.4 64.3M75.2 86.4L67.9 87.3M75.2 86.4L89 91.5M75.2 86.4L101.9 97.2M81.7 82.7L90.8 82.3M81.7 82.7L78 95.2M81.7 82.7L57.4 64.3M72.1 92.4L75.2 102.5M72.1 92.4L85.3 97M72.1 92.4L98.4 80.8M78 95.2L75.2 102.5M78 95.2L92.8 89.4M84.8 93.3L85.3 97M84.8 93.3L93.6 88.8M84.8 93.3L101.9 97.2M90.8 82.3L94 84.9M90.8 82.3L81.7 82.7M90.8 82.3L64.2 106.6M94.3 78.6L90.8 82.3M94.3 78.6L100.1 89.1M94.3 78.6L85.3 97M98.4 80.8L106.1 81.6M98.4 80.8L99.5 104.2M98.4 80.8L93.6 88.8M93.6 88.8L89 91.5M93.6 88.8L78 95.2M89 91.5L92.8 89.4M89 91.5L97 91.8M89 91.5L107.8 90M95.4 93.5L97 91.8M95.4 93.5L100.1 89.1M95.4 93.5L92.8 89.4M85.3 97L84.8 93.3M85.3 97L95.4 98.9M85.3 97L92.8 89.4M75.2 102.5L70.6 110.4M75.2 102.5L106.5 86.3M82.6 102.2L84.8 93.3M82.6 102.2L104.3 93.7M82.6 102.2L87.6 110.7M89.9 102.5L95.4 98.9M89.9 102.5L95.1 101.2M89.9 102.5L95.4 98.9M95.4 98.9L101.9 97.2M95.4 98.9L91.8 108.2M95.4 98.9L75.2 86.4M64.2 106.6L78 95.2M89.4 109L87.6 110.7M89.4 109L87.6 110.7M61.8 116.8L70.6 110.4M61.8 116.8L87.6 110.7M99.5 104.2L95.4 98.9M99.5 104.2L100 93.6M99.5 104.2L82.6 102.2M70.6 110.4L75.2 102.5M70.6 110.4L72.1 92.4M70.6 110.4L89.9 102.5M106.1 81.6L107.8 90M106.1 81.6L106.5 86.3M106.1 81.6L94 84.9M100.1 83.9L106.5 86.3M100.1 83.9L70.6 110.4M100.1 83.9L100.1 89.1M94 84.9L100.1 83.9M94 84.9L106.1 81.6M106.5 86.3L106.1 81.6M106.5 86.3L98.4 80.8M106.5 86.3L75.2 102.5M100.1 89.1L100 93.6M100.1 89.1L106.5 86.3M100.1 89.1L89.4 109M107.8 90L72.1 92.4M92.8 89.4L89 91.5M92.8 89.4L90.8 82.3M92.8 89.4L93.6 88.8M97 91.8L100 93.6M97 91.8L101.9 97.2M97 91.8L95.4 98.9M104.3 93.7L100 93.6M104.3 93.7L95.4 93.5M104.3 93.7L106.1 81.6M101.9 97.2L104.3 93.7M101.9 97.2L95.1 101.2M101.9 97.2L94.3 78.6M95.1 101.2L89.9 102.5M95.1 101.2L97 91.8M95.1 101.2L89.9 102.5M91.8 108.2L89.9 102.5M91.8 108.2L67.9 87.3M91.8 108.2L95.4 93.5M79.3 135.2L91.8 108.2M93.1 106.7L91.8 108.2M93.1 106.7L99.5 104.2M93.1 106.7L64.2 106.6M100 93.6L97 91.8M100 93.6L95.4 98.9M100 93.6L75.2 102.5M87.6 110.7L95.4 93.5M118.4 89.1L121.6 93.7M118.4 89.1L124.9 98.3M118.4 89.1L101.9 114.3M121.6 93.7L124.9 98.3M121.6 93.7L112.9 100.5M121.6 93.7L96.7 111.1M128.5 94L122.7 105.1M128.5 94L129.5 104.5M113.5 95L112.9 100.5M113.5 95L124.9 98.3M113.5 95L108.3 133.5M134.6 97.3L129.5 104.5M134.6 97.3L122.7 105.1M134.6 97.3L111.1 107.6M118.4 98.6L113.5 95M118.4 98.6L125.8 136.8M118.4 98.6L139.5 115.2M124.9 98.3L122.1 109.3M124.9 98.3L122.1 125.6M112.9 100.5L118.4 98.6M112.9 100.5L131.3 111.1M112.9 100.5L139.5 115.2M105.6 102.8L112.9 100.5M105.6 102.8L124.9 98.3M105.6 102.8L143.2 124M146.5 106.9L129.5 104.5M146.5 106.9L119.4 129M146.5 106.9L132.6 133.9M97 111.5L107.4 114.8M97 111.5L134.6 97.3M97 111.5L88.4 118.5M107.9 106.4L107.4 114.8M107.9 106.4L122.7 105.1M107.9 106.4L131.3 111.1M111.1 107.6L112.9 100.5M111.1 107.6L105.6 102.8M111.1 107.6L113.5 130.8M111.4 96.8L118.4 98.6M111.4 96.8L118.4 98.6M111.4 96.8L88.4 118.5M129.5 104.5L131.3 111.1M129.5 104.5L97 111.5M129.5 104.5L134 122.5M114.8 111.1L123.9 113.3M114.8 111.1L138.1 131.1M122.7 105.1L122.1 109.3M122.7 105.1L123.9 113.3M122.7 105.1L111.1 107.6M122.7 105.1L107.4 122.9M126.7 106.9L123.9 113.3M126.7 106.9L146.5 106.9M126.7 106.9L107.9 106.4M122.1 109.3L123.9 113.3M122.1 109.3L100.1 122.9M123.9 113.3L143.2 124M123.9 113.3L132.6 133.9M131.3 111.1L129.5 104.5M131.3 111.1L122.7 105.1M131.3 111.1L122.7 105.1M101.9 114.3L101.9 118.3M101.9 114.3L99 123M101.9 114.3L93.3 134.4M107.4 114.8L112 117.4M107.4 114.8L114.8 111.1M107.4 114.8L139.5 115.2M101.9 118.3L107.4 122.9M101.9 118.3L99 123M101.9 118.3L111.1 107.6M112 117.4L114.8 111.1M112 117.4L107.4 122.9M112 117.4L100.1 122.9M116.2 117L114.8 111.1M116.2 117L114.8 111.1M116.2 117L121.6 93.7M129.1 117.6L131.3 111.1M129.1 117.6L122.1 125.6M129.1 117.6L103.8 126.6M139.5 115.2L139.2 120.3M139.5 115.2L146.5 106.9M139.5 115.2L129.5 104.5M139.5 115.2L121.2 120.7M139.2 120.3L138.1 131.1M139.2 120.3L143.2 124M134 122.5L139.2 120.3M134 122.5L138.1 131.1M134 122.5L112 117.4M134 122.5L101.9 114.3M143.2 124L139.5 115.2M143.2 124L101.9 114.3M143.2 124L123 148.7M113.5 121.6L107.4 114.8M113.5 121.6L129.1 117.6M113.5 121.6L121.2 120.7M121.2 120.7L123.9 113.3M121.2 120.7L141.4 142.3M121.2 120.7L111.4 96.8M100.1 122.9L103.8 126.6M100.1 122.9L107.4 114.8M100.1 122.9L138.1 131.1M107.4 122.9L135.9 136.8M107.4 122.9L124.9 98.3M103.8 126.6L99 123M103.8 126.6L146.9 131.3M122.1 125.6L121.2 120.7M122.1 125.6L129.1 117.6M122.1 125.6L112 117.4M128.5 125.3L122.1 125.6M128.5 125.3L138.1 131.1M128.5 125.3L114.8 111.1M113.5 130.8L108.3 133.5M113.5 130.8L122.1 125.6M113.5 130.8L108.3 133.5M113.5 130.8L123.9 113.3M119.4 129L128.5 125.3M119.4 129L122.1 109.3M119.4 129L146.9 131.3M108.3 133.5L117.5 139M108.3 133.5L121.2 120.7M108.3 133.5L122.1 109.3M93.3 134.4L100.1 122.9M93.3 134.4L100.1 122.9M93.3 134.4L99 123M138.1 131.1L134 122.5M138.1 131.1L119.4 129M132.6 133.9L128.5 125.3M132.6 133.9L113.5 121.6M132.6 133.9L96.7 111.1M146.9 131.3L135.9 136.8M146.9 131.3L113.5 121.6M146.9 131.3L112 117.4M135.9 136.8L125.8 136.8M135.9 136.8L146.5 106.9M135.9 136.8L118.4 98.6M125.8 136.8L119.4 129M125.8 136.8L129.1 117.6M125.8 136.8L113.5 130.8M117.5 139L113.5 130.8M117.5 139L132.6 133.9M117.5 139L121.2 120.7M147.8 140.5L141.4 142.3M147.8 140.5L143.2 124M147.8 140.5L126.7 106.9M141.4 142.3L132.6 133.9M141.4 142.3L129.5 104.5M141.4 142.3L113.5 121.6M123 148.7L141.4 142.3M123 148.7L122.1 109.3M81.3 111.1L97 111.5M81.3 111.1L122.1 109.3M96.7 111.1L101.9 118.3M96.7 111.1L97 111.5M96.7 111.1L99 123M88.4 118.5L96.7 111.1M88.4 118.5L121.2 120.7M99 123L100.1 122.9M99 123L88.4 118.5M99 123L129.5 104.5M83.5 123.6L73 136.1M83.5 123.6L98.3 142M130.7 143.3L128.2 154.3M130.7 143.3L99.2 151.4M106.1 147.7L105 156.9M106.1 147.7L65.5 160M115 148.8L100.5 154.7M115 148.8L148.7 163.9M91.8 146.3L94.6 157.4M91.8 146.3L78.5 173.2M128.2 154.3L140.5 163.9M116.6 157.4L78.5 173.2M105 156.9L107.4 162.9M105 156.9L107.8 175.4M100.5 154.7L105 156.9M94.6 157.4L90.3 165M99.2 151.4L105 156.9M99.2 151.4L74.3 169.2M107.4 162.9L93.7 172.7M103.2 164.8L107.4 162.9M103.2 164.8L94.6 157.4M124.9 164.2L116.6 157.4M124.9 164.2L130.7 143.3M140.5 163.9L130.7 143.3M148.7 163.9L133.5 180.7M114.4 168.4L116.6 157.4M114.4 168.4L107.8 175.4M93.7 172.7L84.8 133.8M107.8 175.4L96.1 181.8M107.8 175.4L90.6 188.3M133.5 180.7L148.7 163.9M122.1 181.3L114.4 168.4M96.1 181.8L107.8 175.4M132.2 187.3L114.4 168.4M90.6 188.3L93.7 172.7M73 136.1L68.8 144.8M73 136.1L100.5 154.7M58.2 143.5L73 136.1M68.8 144.8L75.2 158.9M88.6 145.7L91.8 146.3M76.1 148.4L83.5 154M75.8 153.6L76.1 148.4M75.2 158.9L83.5 154M65.5 160L75.2 158.9M85.7 161.3L90.3 165M90.3 165L90.6 188.3M77.1 164L90.3 165M74.3 169.2L81.3 158.9M85.3 168L90.9 168.4M85.3 168L68.8 144.8M78.5 173.2L74.3 169.2M62.9 180.6L94.6 157.4M85 178.2L78.5 173.2M28.4 78.6L78 95.2M29.9 71.3L75.2 86.4M23.9 59.7L75.2 102.5M48.6 71.3L61.8 116.8M48.6 71.3L75.2 86.4M20.2 53.9L70.6 110.4M48.6 71.3L70.6 110.4M33.4 58.4L75.2 86.4M48.6 71.3L55.6 118.7M48.6 71.3L62.9 103.4M28.4 78.6L50.8 114.8M48.6 71.3L63.3 111.7M33.6 67.1L62.9 103.4M92.5 123.8L99.2 151.4M100 93.6L134 122.5M85.3 97L108.3 133.5M91.8 108.2L129.1 117.6M78 95.2L118.4 98.6M99.5 104.2L101.9 114.3M75.2 102.5L123.9 113.3M93.1 106.7L139.5 115.2M101.9 97.2L122.1 109.3M89.4 109L116.2 117M97 91.8L100.1 122.9M78 95.2L108.3 133.5M98.4 80.8L116.2 117M99.5 104.2L101.9 118.3M101.9 97.2L101.9 114.3M106.5 86.3L113.5 95M82.6 102.2L107.4 122.9M99.5 104.2L143.2 124M92.8 89.4L108.3 133.5M95.1 101.2L134.6 97.3M99.5 104.2L121.2 120.7M106.1 81.6L113.5 95M82.6 102.2L107.4 122.9M100.1 89.1L121.2 120.7M106.5 86.3L107.4 114.8M100 93.6L113.5 121.6M94 84.9L93.3 134.4M93.6 88.8L103.8 126.6M61.8 116.8L108.3 133.5M91.8 108.2L118.4 89.1M100.1 89.1L122.7 105.1M89.4 109L128.5 94M100.1 89.1L131.3 111.1M93.1 106.7L118.4 89.1M101.9 97.2L118.4 89.1M100.1 83.9L111.1 107.6M94.3 78.6L124.9 98.3M85.3 97L121.2 120.7M91.8 108.2L117.5 139M75.2 86.4L111.4 96.8M75.2 102.5L122.7 105.1M100.1 83.9L129.5 104.5M97 91.8L113.5 121.6M64.2 106.6L101.9 114.3M89 91.5L101.9 118.3M106.5 86.3L107.4 114.8M101.9 97.2L131.3 111.1M91.8 108.2L93.3 134.4M93.1 106.7L122.1 125.6M99.5 104.2L143.2 124M89.4 109L134.6 97.3M93.6 88.8L96.7 111.1M92.8 89.4L118.4 89.1M100.1 89.1L134.6 97.3M104.3 93.7L122.1 125.6M95.4 98.9L107.4 114.8M82.6 102.2L108.3 133.5M107.8 90L93.3 134.4M101.9 97.2L105.6 102.8M101.9 97.2L107.4 122.9M100.1 89.1L93.3 134.4M99.5 104.2L101.9 114.3M93.6 88.8L107.4 114.8M87.6 110.7L122.7 105.1M93.1 106.7L119.4 129M87.6 110.7L118.4 98.6M82.6 102.2L101.9 114.3M87.6 110.7L88.4 118.5M106.5 86.3L121.2 120.7M100.1 83.9L107.4 114.8M99.5 104.2L132.6 133.9M92.8 89.4L97 111.5M101.9 97.2L131.3 111.1M107.8 90L117.5 139M101.9 97.2L125.8 136.8M89 91.5L111.1 107.6M95.4 98.9L123.9 113.3M91.8 108.2L134 122.5M81.3 111.1L83.5 123.6M125.8 136.8L81.3 158.9M122.1 125.6L128.2 154.3M101.9 114.3L128.2 154.3M122.1 125.6L124.9 164.2M96.7 111.1L98.3 142M108.3 133.5L74.3 169.2M129.1 117.6L130.7 143.3M123 148.7L148.7 163.9M116.2 117L83.5 123.6M108.3 133.5L107.8 175.4M125.8 136.8L84.8 133.8M116.2 117L106.1 147.7M99 123L88.6 145.7M81.3 111.1L76.1 148.4M107.4 122.9L130.7 143.3M146.9 131.3L98.3 142M146.9 131.3L105 156.9M139.5 115.2L140.5 163.9M138.1 131.1L133.5 180.7M123.9 113.3L91.8 146.3M131.3 111.1L130.7 143.3M112 117.4L103.2 164.8M112 117.4L91.8 146.3" stroke="#f0776a" stroke-opacity="0.5" stroke-width="0.5"/>
<path d="M44 98.5L53.2 96.1M53.2 96.1L56 102M43.1 105.6L43.5 118.7M62.9 103.4L56 102M50.8 114.8L55.6 118.7M55.6 118.7L43.5 118.7M40.7 124.2L49.2 128.2M69.7 120L64.4 128.2M59.3 131.6L70.6 128.3M46.8 139.3L49.2 128.2" stroke="#f0776a" stroke-opacity="0.32" stroke-width="0.5"/>
<path d="M70.6 128.3L85.3 97M62.9 103.4L89.9 102.5M64.4 128.2L78 95.2M56 102L72.1 92.4M43.1 105.6L75.2 102.5M55.6 118.7L99.5 104.2M55.6 118.7L70.6 110.4M44 98.5L81.7 82.7M77.4 116.8L106.1 81.6M84.4 127.2L106.5 86.3M44 98.5L75.2 86.4M77.4 116.8L94 84.9M63.3 111.7L72.1 92.4" stroke="#f0776a" stroke-opacity="0.3" stroke-width="0.5"/>
<path d="M53.2 96.1L99 123M92.5 123.8L132.6 133.9M69.7 120L112 117.4" stroke="#f0776a" stroke-opacity="0.35" stroke-width="0.5"/>
<path d="M89.9 102.5L85.7 161.3M79.3 135.2L94.6 163.5M70.6 110.4L65.5 160" stroke="#f0776a" stroke-opacity="0.4" stroke-width="0.5"/>
<path d="M62.9 180.6L76.1 148.4" stroke="#f0776a" stroke-opacity="0.55" stroke-width="0.5"/>
<path d="M158.7 206.5L148.7 163.9" stroke="#f0776a" stroke-opacity="0.55" stroke-width="0.4"/>
<path d="M173.5 217.4L174.2 180.6M174.2 180.6L133.5 180.7M170.7 148.3L147.8 140.5M132.2 187.3L122.1 181.3M140.5 163.9L128.2 154.3M90.6 188.3L85 178.2M107.8 175.4L133.5 180.7M57.4 64.3L94.3 78.6M57.4 64.3L67.9 87.3" stroke="#f0776a" stroke-opacity="0.5" stroke-width="0.4"/>
<path d="M73 197.1L62.9 180.6" stroke="#f0776a" stroke-opacity="0.65" stroke-width="0.6"/>
<path d="M107.8 175.4L158.7 206.5" stroke="#f0776a" stroke-opacity="0.45" stroke-width="0.4"/>
</g>
<g fill="#6cc5b4" stroke="#4b574c" stroke-width="0.5">
<circle cx="26.6" cy="52" r="3.30"/>
<circle cx="20.2" cy="53.9" r="2.40"/>
<circle cx="7.3" cy="61.6" r="2.60"/>
<circle cx="14.3" cy="62.7" r="2.60"/>
<circle cx="23.9" cy="59.7" r="2.20"/>
<circle cx="33.4" cy="58.4" r="2.40"/>
<circle cx="37.6" cy="62.5" r="2.40"/>
<circle cx="19.3" cy="66.3" r="2.40"/>
<circle cx="33.6" cy="67.1" r="1.90"/>
<circle cx="29.9" cy="71.3" r="1.90"/>
<circle cx="48.6" cy="71.3" r="2.40"/>
<circle cx="28.4" cy="78.6" r="3.00"/>
<circle cx="35.8" cy="76.8" r="2.20"/>
<circle cx="49.5" cy="78.1" r="2.40"/>
<circle cx="18.9" cy="93.7" r="2.00"/>
<circle cx="37.2" cy="91" r="1.70"/>
</g>
<g fill="#e39a62" stroke="#4b574c" stroke-width="0.5">
<circle cx="44" cy="98.5" r="2.40"/>
<circle cx="53.2" cy="96.1" r="2.20"/>
<circle cx="43.1" cy="105.6" r="3.30"/>
<circle cx="56" cy="102" r="2.60"/>
<circle cx="62.9" cy="103.4" r="2.40"/>
<circle cx="37.2" cy="113" r="3.00"/>
<circle cx="43.5" cy="118.7" r="3.50"/>
<circle cx="50.8" cy="114.8" r="2.60"/>
<circle cx="55.6" cy="118.7" r="2.60"/>
<circle cx="40.7" cy="124.2" r="2.60"/>
<circle cx="63.3" cy="111.7" r="1.90"/>
<circle cx="69.7" cy="120" r="2.80"/>
<circle cx="77.4" cy="116.8" r="2.00"/>
<circle cx="64.4" cy="128.2" r="3.00"/>
<circle cx="49.2" cy="128.2" r="1.70"/>
<circle cx="92.5" cy="123.8" r="2.20"/>
<circle cx="84.4" cy="127.2" r="2.50"/>
<circle cx="70.6" cy="128.3" r="2.80"/>
<circle cx="59.3" cy="131.6" r="1.70"/>
<circle cx="46.8" cy="139.3" r="2.00"/>
</g>
<g fill="#b491d6" stroke="#4b574c" stroke-width="0.5">
<circle cx="57.4" cy="64.3" r="2.40"/>
<circle cx="67.9" cy="87.3" r="2.60"/>
<circle cx="75.2" cy="86.4" r="2.60"/>
<circle cx="81.7" cy="82.7" r="2.40"/>
<circle cx="72.1" cy="92.4" r="3.00"/>
<circle cx="78" cy="95.2" r="2.80"/>
<circle cx="84.8" cy="93.3" r="2.40"/>
<circle cx="90.8" cy="82.3" r="2.20"/>
<circle cx="94.3" cy="78.6" r="2.80"/>
<circle cx="98.4" cy="80.8" r="2.40"/>
<circle cx="93.6" cy="88.8" r="2.20"/>
<circle cx="89" cy="91.5" r="1.70"/>
<circle cx="95.4" cy="93.5" r="2.20"/>
<circle cx="85.3" cy="97" r="2.00"/>
<circle cx="75.2" cy="102.5" r="2.60"/>
<circle cx="82.6" cy="102.2" r="2.40"/>
<circle cx="89.9" cy="102.5" r="2.00"/>
<circle cx="95.4" cy="98.9" r="2.00"/>
<circle cx="64.2" cy="106.6" r="2.80"/>
<circle cx="89.4" cy="109" r="2.80"/>
<circle cx="61.8" cy="116.8" r="1.90"/>
<circle cx="99.5" cy="104.2" r="2.10"/>
<circle cx="70.6" cy="110.4" r="2.00"/>
<circle cx="106.1" cy="81.6" r="2.60"/>
<circle cx="100.1" cy="83.9" r="2.20"/>
<circle cx="94" cy="84.9" r="2.00"/>
<circle cx="106.5" cy="86.3" r="1.90"/>
<circle cx="100.1" cy="89.1" r="2.20"/>
<circle cx="107.8" cy="90" r="1.90"/>
<circle cx="92.8" cy="89.4" r="1.90"/>
<circle cx="97" cy="91.8" r="1.90"/>
<circle cx="104.3" cy="93.7" r="2.20"/>
<circle cx="101.9" cy="97.2" r="2.00"/>
<circle cx="95.1" cy="101.2" r="2.00"/>
<circle cx="91.8" cy="108.2" r="2.00"/>
<circle cx="79.3" cy="135.2" r="2.00"/>
<circle cx="93.1" cy="106.7" r="1.90"/>
<circle cx="100" cy="93.6" r="2.20"/>
<circle cx="87.6" cy="110.7" r="2.20"/>
</g>
<g fill="#a845ac" stroke="#4b574c" stroke-width="0.5">
<circle cx="83.5" cy="123.6" r="1.70"/>
<circle cx="98.3" cy="142" r="3.10"/>
<circle cx="130.7" cy="143.3" r="2.60"/>
<circle cx="170.7" cy="148.3" r="2.50"/>
<circle cx="106.1" cy="147.7" r="2.50"/>
<circle cx="115" cy="148.8" r="2.50"/>
<circle cx="91.8" cy="146.3" r="2.50"/>
<circle cx="128.2" cy="154.3" r="2.40"/>
<circle cx="116.6" cy="157.4" r="3.90"/>
<circle cx="105" cy="156.9" r="3.00"/>
<circle cx="100.5" cy="154.7" r="2.20"/>
<circle cx="94.6" cy="157.4" r="2.20"/>
<circle cx="99.2" cy="151.4" r="1.70"/>
<circle cx="107.4" cy="162.9" r="2.80"/>
<circle cx="94.6" cy="163.5" r="2.40"/>
<circle cx="103.2" cy="164.8" r="1.90"/>
<circle cx="124.9" cy="164.2" r="2.60"/>
<circle cx="140.5" cy="163.9" r="2.60"/>
<circle cx="148.7" cy="163.9" r="2.60"/>
<circle cx="114.4" cy="168.4" r="2.40"/>
<circle cx="93.7" cy="172.7" r="2.80"/>
<circle cx="90.9" cy="168.4" r="2.00"/>
<circle cx="107.8" cy="175.4" r="2.20"/>
<circle cx="133.5" cy="180.7" r="3.90"/>
<circle cx="122.1" cy="181.3" r="2.40"/>
<circle cx="96.1" cy="181.8" r="1.90"/>
<circle cx="132.2" cy="187.3" r="2.40"/>
<circle cx="90.6" cy="188.3" r="1.50"/>
<circle cx="73" cy="136.1" r="2.40"/>
<circle cx="84.8" cy="133.8" r="2.40"/>
<circle cx="58.2" cy="143.5" r="2.40"/>
<circle cx="68.8" cy="144.8" r="2.40"/>
<circle cx="88.6" cy="145.7" r="2.80"/>
<circle cx="76.1" cy="148.4" r="2.20"/>
<circle cx="75.8" cy="153.6" r="3.50"/>
<circle cx="83.5" cy="154" r="2.20"/>
<circle cx="75.2" cy="158.9" r="3.10"/>
<circle cx="81.3" cy="158.9" r="3.10"/>
<circle cx="65.5" cy="160" r="2.40"/>
<circle cx="85.7" cy="161.3" r="1.90"/>
<circle cx="90.3" cy="165" r="2.80"/>
<circle cx="77.1" cy="164" r="2.00"/>
<circle cx="74.3" cy="169.2" r="2.80"/>
<circle cx="85.3" cy="168" r="2.20"/>
<circle cx="78.5" cy="173.2" r="1.90"/>
<circle cx="73" cy="197.1" r="3.50"/>
<circle cx="62.9" cy="180.6" r="2.60"/>
<circle cx="85" cy="178.2" r="2.40"/>
<circle cx="121" cy="198.3" r="2.50"/>
</g>
<g fill="#a1da60" stroke="#4b574c" stroke-width="0.5">
<circle cx="181.2" cy="84.3" r="3.50"/>
<circle cx="118.4" cy="89.1" r="2.40"/>
<circle cx="121.6" cy="93.7" r="3.90"/>
<circle cx="128.5" cy="94" r="3.30"/>
<circle cx="113.5" cy="95" r="2.00"/>
<circle cx="134.6" cy="97.3" r="2.40"/>
<circle cx="118.4" cy="98.6" r="2.20"/>
<circle cx="124.9" cy="98.3" r="2.40"/>
<circle cx="112.9" cy="100.5" r="3.10"/>
<circle cx="105.6" cy="102.8" r="2.20"/>
<circle cx="146.5" cy="106.9" r="3.90"/>
<circle cx="97" cy="111.5" r="2.80"/>
<circle cx="107.9" cy="106.4" r="2.40"/>
<circle cx="111.1" cy="107.6" r="2.40"/>
<circle cx="111.4" cy="96.8" r="1.60"/>
<circle cx="129.5" cy="104.5" r="1.60"/>
<circle cx="114.8" cy="111.1" r="2.60"/>
<circle cx="122.7" cy="105.1" r="2.00"/>
<circle cx="126.7" cy="106.9" r="2.00"/>
<circle cx="122.1" cy="109.3" r="1.90"/>
<circle cx="123.9" cy="113.3" r="2.20"/>
<circle cx="131.3" cy="111.1" r="2.20"/>
<circle cx="101.9" cy="114.3" r="1.90"/>
<circle cx="107.4" cy="114.8" r="1.90"/>
<circle cx="101.9" cy="118.3" r="2.40"/>
<circle cx="112" cy="117.4" r="2.40"/>
<circle cx="116.2" cy="117" r="2.40"/>
<circle cx="129.1" cy="117.6" r="2.80"/>
<circle cx="139.5" cy="115.2" r="1.90"/>
<circle cx="139.2" cy="120.3" r="3.00"/>
<circle cx="134" cy="122.5" r="3.00"/>
<circle cx="143.2" cy="124" r="3.10"/>
<circle cx="113.5" cy="121.6" r="1.90"/>
<circle cx="121.2" cy="120.7" r="1.70"/>
<circle cx="100.1" cy="122.9" r="2.60"/>
<circle cx="107.4" cy="122.9" r="1.90"/>
<circle cx="103.8" cy="126.6" r="2.60"/>
<circle cx="122.1" cy="125.6" r="3.10"/>
<circle cx="128.5" cy="125.3" r="2.00"/>
<circle cx="113.5" cy="130.8" r="3.50"/>
<circle cx="119.4" cy="129" r="1.90"/>
<circle cx="108.3" cy="133.5" r="3.00"/>
<circle cx="93.3" cy="134.4" r="4.20"/>
<circle cx="138.1" cy="131.1" r="3.10"/>
<circle cx="132.6" cy="133.9" r="2.20"/>
<circle cx="146.9" cy="131.3" r="2.20"/>
<circle cx="135.9" cy="136.8" r="2.00"/>
<circle cx="125.8" cy="136.8" r="1.70"/>
<circle cx="117.5" cy="139" r="2.20"/>
<circle cx="147.8" cy="140.5" r="3.10"/>
<circle cx="141.4" cy="142.3" r="3.10"/>
<circle cx="164.3" cy="148.2" r="2.00"/>
<circle cx="123" cy="148.7" r="2.50"/>
<circle cx="81.3" cy="111.1" r="1.90"/>
<circle cx="96.7" cy="111.1" r="2.80"/>
<circle cx="88.4" cy="118.5" r="3.10"/>
<circle cx="99" cy="123" r="2.40"/>
</g>
<g fill="#d6d6d6" stroke="#6a6a6a" stroke-width="0.6">
<circle cx="29.9" cy="209.6" r="2.40"/>
<circle cx="94.5" cy="247.8" r="2.70"/>
<circle cx="158.7" cy="206.5" r="2.70"/>
<circle cx="173.5" cy="217.4" r="2.70"/>
<circle cx="174.2" cy="180.6" r="1.00"/>
<circle cx="205" cy="102" r="3.30"/>
</g>
</g>
<g id="panels">
<circle cx="205.5" cy="15.5" r="11.5" fill="#a660b6" stroke="#2c3a66" stroke-width="0.8"/>
<text x="205.5" y="19.6" text-anchor="middle" style="font-family:'Liberation Serif',serif;font-weight:normal;stroke:none" font-size="12.6">M1</text>
<text x="257.6" y="13.98" font-size="4.78" class="h">Ingenuity Functions</text>
<text x="304.6" y="13.92" font-size="4.6" class="h">-log B-H p-value</text>
<text x="343.9" y="13.85" font-size="4.4" class="h">z-score</text>
<rect x="308.3" y="16.2" width="28.0" height="74.1" fill="none" stroke="#333" stroke-width="0.45"/>
<rect x="339.5" y="16.2" width="24.7" height="74.1" fill="none" stroke="#333" stroke-width="0.45"/>
<line x1="351.7" y1="16.2" x2="351.7" y2="90.3" stroke="#1a1a2a" stroke-width="0.6"/>
<path d="M308.3 16.2V90.3H336.3M339.5 90.3H364.2" fill="none" stroke="#1a1a2a" stroke-width="0.75"/>
<text x="305.3" y="22.23" text-anchor="end" font-size="4.17">Secretion of triacylglycerol</text>
<rect x="308.3" y="18.90" width="26.7" height="4.4" fill="#c274c8" stroke="#3a3a3a" stroke-width="0.4"/>
<text x="305.3" y="29.43" text-anchor="end" font-size="4.17">Terminal passage of oligodendrocytes</text>
<rect x="308.3" y="26.10" width="20.0" height="4.4" fill="#c274c8" stroke="#3a3a3a" stroke-width="0.4"/>
<text x="305.3" y="36.63" text-anchor="end" font-size="4.17">Quantity of non-esterified fatty acid</text>
<rect x="308.3" y="33.30" width="12.9" height="4.4" fill="#c274c8" stroke="#3a3a3a" stroke-width="0.4"/>
<text x="305.3" y="43.83" text-anchor="end" font-size="4.17">Transport of vitamin</text>
<rect x="308.3" y="40.50" width="11.4" height="4.4" fill="#c274c8" stroke="#3a3a3a" stroke-width="0.4"/>
<text x="305.3" y="51.43" text-anchor="end" font-size="4.17">Concentration of triacylglycerol</text>
<rect x="308.3" y="48.10" width="11.4" height="4.4" fill="#c274c8" stroke="#3a3a3a" stroke-width="0.4"/>
<rect x="351.70" y="48.30" width="2.00" height="4.00" fill="#e8792f" stroke="#333" stroke-width="0.25"/>
<text x="305.3" y="58.63" text-anchor="end" font-size="4.17">Concentration of glycerol</text>
<rect x="308.3" y="55.30" width="10.5" height="4.4" fill="#c274c8" stroke="#3a3a3a" stroke-width="0.4"/>
<text x="305.3" y="65.83" text-anchor="end" font-size="4.17">Killing of Staphylococcus aureus</text>
<rect x="308.3" y="62.50" width="9.7" height="4.4" fill="#c274c8" stroke="#3a3a3a" stroke-width="0.4"/>
<text x="305.3" y="72.83" text-anchor="end" font-size="4.17">Oxidation of dihydrotestosterone</text>
<rect x="308.3" y="69.50" width="8.4" height="4.4" fill="#c274c8" stroke="#3a3a3a" stroke-width="0.4"/>
<text x="305.3" y="79.93" text-anchor="end" font-size="4.17">Activation of splenocytes</text>
<rect x="308.3" y="76.60" width="8.4" height="4.4" fill="#c274c8" stroke="#3a3a3a" stroke-width="0.4"/>
<text x="305.3" y="87.13" text-anchor="end" font-size="4.17">Cell movement of eosinophils</text>
<rect x="308.3" y="83.80" width="8.4" height="4.4" fill="#c274c8" stroke="#3a3a3a" stroke-width="0.4"/>
<rect x="351.70" y="84.00" width="2.00" height="4.00" fill="#e8792f" stroke="#333" stroke-width="0.25"/>
<text x="308.5" y="96.0" text-anchor="middle" font-size="3.6">1.5</text>
<text x="322.3" y="96.0" text-anchor="middle" font-size="3.6">2.5</text>
<text x="335.2" y="96.0" text-anchor="middle" font-size="3.6">3.5</text>
<text x="339.6" y="96.0" text-anchor="middle" font-size="3.6">4</text>
<text x="345.6" y="96.0" text-anchor="middle" font-size="3.6">-2</text>
<text x="351.7" y="96.0" text-anchor="middle" font-size="3.6">0</text>
<text x="357.9" y="96.0" text-anchor="middle" font-size="3.6">2</text>
<text x="364.1" y="96.0" text-anchor="middle" font-size="3.6">4</text>
<circle cx="400.3" cy="18.8" r="11.7" fill="#b9a0d3" stroke="#2c3a66" stroke-width="0.8"/>
<text x="400.3" y="22.9" text-anchor="middle" style="font-family:'Liberation Serif',serif;font-weight:normal;stroke:none" font-size="12.6">M2</text>
<text x="441.3" y="12.10" font-size="4.55" class="h">Ingenuity Functions</text>
<text x="486.3" y="12.01" font-size="4.27" class="h">-log B-H p-value</text>
<text x="523.8" y="11.94" font-size="4.05" class="h">z-score</text>
<rect x="489.7" y="14.2" width="27.0" height="70.8" fill="none" stroke="#333" stroke-width="0.45"/>
<rect x="518.3" y="14.2" width="24.5" height="70.8" fill="none" stroke="#333" stroke-width="0.45"/>
<line x1="530.8" y1="14.2" x2="530.8" y2="85.0" stroke="#1a1a2a" stroke-width="0.6"/>
<path d="M489.7 14.2V85.0H516.7M518.3 85.0H542.8" fill="none" stroke="#1a1a2a" stroke-width="0.75"/>
<text x="486.8" y="19.69" text-anchor="end" font-size="4.04">Segregation of chromosomes</text>
<rect x="489.7" y="16.45" width="24.0" height="4.3" fill="#caa9da" stroke="#3a3a3a" stroke-width="0.4"/>
<rect x="527.20" y="16.65" width="3.60" height="3.90" fill="#3957a6" stroke="#333" stroke-width="0.25"/>
<text x="486.8" y="26.59" text-anchor="end" font-size="4.04">Mitosis of cervical cancer cell lines</text>
<rect x="489.7" y="23.35" width="17.0" height="4.3" fill="#caa9da" stroke="#3a3a3a" stroke-width="0.4"/>
<text x="486.8" y="33.59" text-anchor="end" font-size="4.04">M phase</text>
<rect x="489.7" y="30.35" width="10.0" height="4.3" fill="#caa9da" stroke="#3a3a3a" stroke-width="0.4"/>
<rect x="530.80" y="30.55" width="0.30" height="3.90" fill="#e8792f" stroke="#333" stroke-width="0.25"/>
<text x="486.8" y="40.49" text-anchor="end" font-size="4.04">Delay in mitosis</text>
<rect x="489.7" y="37.25" width="10.0" height="4.3" fill="#caa9da" stroke="#3a3a3a" stroke-width="0.4"/>
<text x="486.8" y="47.39" text-anchor="end" font-size="4.04">Arrest in mitosis of tumor cell lines</text>
<rect x="489.7" y="44.15" width="7.3" height="4.3" fill="#caa9da" stroke="#3a3a3a" stroke-width="0.4"/>
<text x="486.8" y="54.39" text-anchor="end" font-size="4.04">Mitosis</text>
<rect x="489.7" y="51.15" width="7.0" height="4.3" fill="#caa9da" stroke="#3a3a3a" stroke-width="0.4"/>
<rect x="528.70" y="51.35" width="2.10" height="3.90" fill="#3957a6" stroke="#333" stroke-width="0.25"/>
<text x="486.8" y="61.29" text-anchor="end" font-size="4.04">Arrest in M phase</text>
<rect x="489.7" y="58.05" width="4.5" height="4.3" fill="#caa9da" stroke="#3a3a3a" stroke-width="0.4"/>
<text x="486.8" y="68.19" text-anchor="end" font-size="4.04">Arrest in mitosis</text>
<rect x="489.7" y="64.95" width="4.3" height="4.3" fill="#caa9da" stroke="#3a3a3a" stroke-width="0.4"/>
<text x="486.8" y="75.09" text-anchor="end" font-size="4.04">Cell cycle progression</text>
<rect x="489.7" y="71.85" width="1.6" height="4.3" fill="#caa9da" stroke="#3a3a3a" stroke-width="0.4"/>
<rect x="526.30" y="72.05" width="4.50" height="3.90" fill="#3957a6" stroke="#333" stroke-width="0.25"/>
<text x="486.8" y="82.09" text-anchor="end" font-size="4.04">Interphase</text>
<rect x="489.7" y="78.85" width="1.3" height="4.3" fill="#caa9da" stroke="#3a3a3a" stroke-width="0.4"/>
<rect x="528.70" y="79.05" width="2.10" height="3.90" fill="#3957a6" stroke="#333" stroke-width="0.25"/>
<text x="489.4" y="89.3" text-anchor="middle" font-size="3.3">5</text>
<text x="503.0" y="89.3" text-anchor="middle" font-size="3.3">10</text>
<text x="516.3" y="89.3" text-anchor="middle" font-size="3.3">15</text>
<text x="519.2" y="89.3" text-anchor="middle" font-size="3.3">4</text>
<text x="525.0" y="89.3" text-anchor="middle" font-size="3.3">-2</text>
<text x="531.0" y="89.3" text-anchor="middle" font-size="3.3">0</text>
<text x="537.0" y="89.3" text-anchor="middle" font-size="3.3">2</text>
<text x="543.0" y="89.3" text-anchor="middle" font-size="3.3">4</text>
<circle cx="205.3" cy="119.7" r="12.0" fill="#a6d877" stroke="#2c3a66" stroke-width="0.8"/>
<text x="205.3" y="123.8" text-anchor="middle" style="font-family:'Liberation Serif',serif;font-weight:normal;stroke:none" font-size="12.6">M3</text>
<text x="256.5" y="111.49" font-size="4.83" class="h">Ingenuity Functions</text>
<text x="303.5" y="111.40" font-size="4.55" class="h">-log B-H p-value</text>
<text x="343.7" y="111.30" font-size="4.25" class="h">z-score</text>
<rect x="307.2" y="113.0" width="28.6" height="74.5" fill="none" stroke="#333" stroke-width="0.45"/>
<rect x="337.8" y="113.0" width="28.4" height="74.5" fill="none" stroke="#333" stroke-width="0.45"/>
<line x1="351.7" y1="113.0" x2="351.7" y2="187.5" stroke="#1a1a2a" stroke-width="0.6"/>
<path d="M307.2 113.0V187.5H335.8M337.8 187.5H366.2" fill="none" stroke="#1a1a2a" stroke-width="0.75"/>
<text x="304.6" y="119.48" text-anchor="end" font-size="4.37">Metabolism of prostaglandin</text>
<rect x="307.2" y="116.00" width="23.3" height="4.6" fill="#a9dc74" stroke="#3a3a3a" stroke-width="0.4"/>
<rect x="350.30" y="116.20" width="1.40" height="4.20" fill="#3957a6" stroke="#333" stroke-width="0.25"/>
<text x="304.6" y="126.68" text-anchor="end" font-size="4.37">Leukocyte migration</text>
<rect x="307.2" y="123.20" width="23.3" height="4.6" fill="#a9dc74" stroke="#3a3a3a" stroke-width="0.4"/>
<rect x="343.00" y="123.40" width="8.70" height="4.20" fill="#3957a6" stroke="#333" stroke-width="0.25"/>
<text x="304.6" y="133.98" text-anchor="end" font-size="4.37">Quantity of polyunsaturated fatty acids</text>
<rect x="307.2" y="130.50" width="20.3" height="4.6" fill="#a9dc74" stroke="#3a3a3a" stroke-width="0.4"/>
<rect x="351.70" y="130.70" width="1.30" height="4.20" fill="#e8792f" stroke="#333" stroke-width="0.25"/>
<text x="304.6" y="141.18" text-anchor="end" font-size="4.37">Quantity of cytokine</text>
<rect x="307.2" y="137.70" width="6.1" height="4.6" fill="#a9dc74" stroke="#3a3a3a" stroke-width="0.4"/>
<text x="304.6" y="148.38" text-anchor="end" font-size="4.37">Metabolism of reactive oxygen species</text>
<rect x="307.2" y="144.90" width="5.6" height="4.6" fill="#a9dc74" stroke="#3a3a3a" stroke-width="0.4"/>
<rect x="344.70" y="145.10" width="7.00" height="4.20" fill="#3957a6" stroke="#333" stroke-width="0.25"/>
<text x="304.6" y="155.68" text-anchor="end" font-size="4.37">Synthesis of prostaglandin</text>
<rect x="307.2" y="152.20" width="5.6" height="4.6" fill="#a9dc74" stroke="#3a3a3a" stroke-width="0.4"/>
<rect x="350.30" y="152.40" width="1.40" height="4.20" fill="#3957a6" stroke="#333" stroke-width="0.25"/>
<text x="304.6" y="162.88" text-anchor="end" font-size="4.37">Degranulation of neutrophils</text>
<rect x="307.2" y="159.40" width="4.8" height="4.6" fill="#a9dc74" stroke="#3a3a3a" stroke-width="0.4"/>
<text x="304.6" y="169.98" text-anchor="end" font-size="4.37">Activation of astrocytes</text>
<rect x="307.2" y="166.50" width="4.8" height="4.6" fill="#a9dc74" stroke="#3a3a3a" stroke-width="0.4"/>
<rect x="344.70" y="166.70" width="7.00" height="4.20" fill="#3957a6" stroke="#333" stroke-width="0.25"/>
<text x="304.6" y="177.38" text-anchor="end" font-size="4.37">Concentration of fatty acid</text>
<rect x="307.2" y="173.90" width="4.8" height="4.6" fill="#a9dc74" stroke="#3a3a3a" stroke-width="0.4"/>
<rect x="351.70" y="174.10" width="2.50" height="4.20" fill="#e8792f" stroke="#333" stroke-width="0.25"/>
<text x="304.6" y="184.88" text-anchor="end" font-size="4.37">Concentration of eicosanoid</text>
<rect x="307.2" y="181.40" width="2.0" height="4.6" fill="#a9dc74" stroke="#3a3a3a" stroke-width="0.4"/>
<rect x="351.70" y="181.60" width="2.30" height="4.20" fill="#e8792f" stroke="#333" stroke-width="0.25"/>
<text x="310.3" y="193.4" text-anchor="middle" font-size="3.6">2.6</text>
<text x="324.2" y="193.4" text-anchor="middle" font-size="3.6">3.1</text>
<text x="337.8" y="193.4" text-anchor="middle" font-size="3.6">-4</text>
<text x="344.5" y="193.4" text-anchor="middle" font-size="3.6">-2</text>
<text x="351.7" y="193.4" text-anchor="middle" font-size="3.6">0</text>
<text x="358.7" y="193.4" text-anchor="middle" font-size="3.6">2</text>
<text x="365.8" y="193.4" text-anchor="middle" font-size="3.6">4</text>
<circle cx="402.5" cy="121.3" r="11.7" fill="#8fd0c3" stroke="#2c3a66" stroke-width="0.8"/>
<text x="402.5" y="125.39999999999999" text-anchor="middle" style="font-family:'Liberation Serif',serif;font-weight:normal;stroke:none" font-size="12.6">M4</text>
<text x="440.9" y="111.15" font-size="4.71" class="h">Ingenuity Functions</text>
<text x="487.2" y="111.04" font-size="4.36" class="h">-log B-H p-value</text>
<text x="525.0" y="111.00" font-size="4.23" class="h">z-score</text>
<rect x="490.5" y="112.5" width="27.8" height="73.3" fill="none" stroke="#333" stroke-width="0.45"/>
<rect x="520.0" y="112.5" width="25.0" height="73.3" fill="none" stroke="#333" stroke-width="0.45"/>
<line x1="532.5" y1="112.5" x2="532.5" y2="185.8" stroke="#1a1a2a" stroke-width="0.6"/>
<path d="M490.5 112.5V185.8H518.3M520.0 185.8H545.0" fill="none" stroke="#1a1a2a" stroke-width="0.75"/>
<text x="487.7" y="118.43" text-anchor="end" font-size="4.2">Muscle contraction</text>
<rect x="490.5" y="115.10" width="26.7" height="4.4" fill="#8ad3c3" stroke="#3a3a3a" stroke-width="0.4"/>
<text x="487.7" y="125.83" text-anchor="end" font-size="4.2">Contractility of muscle</text>
<rect x="490.5" y="122.50" width="8.3" height="4.4" fill="#8ad3c3" stroke="#3a3a3a" stroke-width="0.4"/>
<text x="487.7" y="133.13" text-anchor="end" font-size="4.2">Contraction of smooth muscle</text>
<rect x="490.5" y="129.80" width="8.3" height="4.4" fill="#8ad3c3" stroke="#3a3a3a" stroke-width="0.4"/>
<text x="487.7" y="140.23" text-anchor="end" font-size="4.2">Formation of filaments</text>
<rect x="490.5" y="136.90" width="5.8" height="4.4" fill="#8ad3c3" stroke="#3a3a3a" stroke-width="0.4"/>
<rect x="532.50" y="137.10" width="5.80" height="4.00" fill="#e8792f" stroke="#333" stroke-width="0.25"/>
<text x="487.7" y="147.43" text-anchor="end" font-size="4.2">Morphology of cardiovascular system</text>
<rect x="490.5" y="144.10" width="2.8" height="4.4" fill="#8ad3c3" stroke="#3a3a3a" stroke-width="0.4"/>
<text x="487.7" y="154.53" text-anchor="end" font-size="4.2">Formation of cytoskeleton</text>
<rect x="490.5" y="151.20" width="2.8" height="4.4" fill="#8ad3c3" stroke="#3a3a3a" stroke-width="0.4"/>
<text x="487.7" y="161.63" text-anchor="end" font-size="4.2">Formation of intermediate filaments</text>
<rect x="490.5" y="158.30" width="2.0" height="4.4" fill="#8ad3c3" stroke="#3a3a3a" stroke-width="0.4"/>
<text x="487.7" y="168.63" text-anchor="end" font-size="4.2">Force generation of muscle</text>
<rect x="490.5" y="165.30" width="2.0" height="4.4" fill="#8ad3c3" stroke="#3a3a3a" stroke-width="0.4"/>
<text x="487.7" y="175.93" text-anchor="end" font-size="4.2">Formation of actin stress fibers</text>
<rect x="490.5" y="172.60" width="2.0" height="4.4" fill="#8ad3c3" stroke="#3a3a3a" stroke-width="0.4"/>
<text x="487.7" y="183.13" text-anchor="end" font-size="4.2">Morphology of blood vessel</text>
<rect x="490.5" y="179.80" width="2.0" height="4.4" fill="#8ad3c3" stroke="#3a3a3a" stroke-width="0.4"/>
<text x="490.4" y="191.4" text-anchor="middle" font-size="3.3">2</text>
<text x="497.3" y="191.4" text-anchor="middle" font-size="3.3">4</text>
<text x="504.5" y="191.4" text-anchor="middle" font-size="3.3">6</text>
<text x="511.5" y="191.4" text-anchor="middle" font-size="3.3">8</text>
<text x="517.6" y="191.4" text-anchor="middle" font-size="3.3">10</text>
<text x="520.9" y="191.4" text-anchor="middle" font-size="3.3">-4</text>
<text x="526.7" y="191.4" text-anchor="middle" font-size="3.3">-2</text>
<text x="532.4" y="191.4" text-anchor="middle" font-size="3.3">0</text>
<text x="538.5" y="191.4" text-anchor="middle" font-size="3.3">2</text>
<text x="544.6" y="191.4" text-anchor="middle" font-size="3.3">4</text>
<circle cx="205.3" cy="213.3" r="11.7" fill="#e1a270" stroke="#2c3a66" stroke-width="0.8"/>
<text x="205.3" y="217.4" text-anchor="middle" style="font-family:'Liberation Serif',serif;font-weight:normal;stroke:none" font-size="12.6">M5</text>
<text x="252.6" y="209.09" font-size="5.13" class="h">Ingenuity Functions</text>
<text x="303.5" y="208.95" font-size="4.7" class="h">-log B-H p-value</text>
<text x="344.3" y="208.90" font-size="4.55" class="h">z-score</text>
<rect x="306.7" y="212.0" width="29.1" height="78.0" fill="none" stroke="#333" stroke-width="0.45"/>
<rect x="338.3" y="212.0" width="28.4" height="78.0" fill="none" stroke="#333" stroke-width="0.45"/>
<line x1="352.5" y1="212.0" x2="352.5" y2="290.0" stroke="#1a1a2a" stroke-width="0.6"/>
<path d="M306.7 212.0V290.0H335.8M338.3 290.0H366.7" fill="none" stroke="#1a1a2a" stroke-width="0.75"/>
<text x="303.2" y="217.52" text-anchor="end" font-size="4.53">Quantity of MHC Class I on cell surface</text>
<rect x="306.7" y="213.95" width="24.5" height="4.7" fill="#eaa878" stroke="#3a3a3a" stroke-width="0.4"/>
<text x="303.2" y="225.42" text-anchor="end" font-size="4.53">Quantity of leukocytes</text>
<rect x="306.7" y="221.85" width="22.5" height="4.7" fill="#eaa878" stroke="#3a3a3a" stroke-width="0.4"/>
<rect x="346.70" y="222.05" width="5.80" height="4.30" fill="#3957a6" stroke="#333" stroke-width="0.25"/>
<text x="303.2" y="233.22" text-anchor="end" font-size="4.53">Generation of plasmacytoid dendritic cells</text>
<rect x="306.7" y="229.65" width="21.1" height="4.7" fill="#eaa878" stroke="#3a3a3a" stroke-width="0.4"/>
<text x="303.2" y="240.92" text-anchor="end" font-size="4.53">Development of dendritic precursor cells</text>
<rect x="306.7" y="237.35" width="19.5" height="4.7" fill="#eaa878" stroke="#3a3a3a" stroke-width="0.4"/>
<text x="303.2" y="248.42" text-anchor="end" font-size="4.53">Activation of antigen presenting cells</text>
<rect x="306.7" y="244.85" width="19.1" height="4.7" fill="#eaa878" stroke="#3a3a3a" stroke-width="0.4"/>
<text x="303.2" y="256.22" text-anchor="end" font-size="4.53">Inflammation of organ</text>
<rect x="306.7" y="252.65" width="15.0" height="4.7" fill="#eaa878" stroke="#3a3a3a" stroke-width="0.4"/>
<rect x="352.50" y="252.85" width="0.80" height="4.30" fill="#e8792f" stroke="#333" stroke-width="0.25"/>
<text x="303.2" y="263.72" text-anchor="end" font-size="4.53">Quantity of lymphoid tissue</text>
<rect x="306.7" y="260.15" width="13.3" height="4.7" fill="#eaa878" stroke="#3a3a3a" stroke-width="0.4"/>
<rect x="349.50" y="260.35" width="3.00" height="4.30" fill="#3957a6" stroke="#333" stroke-width="0.25"/>
<text x="303.2" y="271.22" text-anchor="end" font-size="4.53">Arrest in proliferation of lymphoma cell lines</text>
<rect x="306.7" y="267.65" width="13.0" height="4.7" fill="#eaa878" stroke="#3a3a3a" stroke-width="0.4"/>
<text x="303.2" y="279.02" text-anchor="end" font-size="4.53">Morphology of lymphatic system cells</text>
<rect x="306.7" y="275.45" width="4.1" height="4.7" fill="#eaa878" stroke="#3a3a3a" stroke-width="0.4"/>
<text x="303.2" y="286.72" text-anchor="end" font-size="4.53">Function of leukocytes</text>
<rect x="306.7" y="283.15" width="3.0" height="4.7" fill="#eaa878" stroke="#3a3a3a" stroke-width="0.4"/>
<text x="306.3" y="295.2" text-anchor="middle" font-size="4.2">2</text>
<text x="336.0" y="295.2" text-anchor="middle" font-size="4.2">3</text>
<text x="339.2" y="295.2" text-anchor="middle" font-size="4.2">-4</text>
<text x="345.8" y="295.2" text-anchor="middle" font-size="4.2">-2</text>
<text x="352.2" y="295.2" text-anchor="middle" font-size="4.2">0</text>
<text x="359.2" y="295.2" text-anchor="middle" font-size="4.2">2</text>
<text x="365.8" y="295.2" text-anchor="middle" font-size="4.2">4</text>
</g>
</svg>
</body></html>
